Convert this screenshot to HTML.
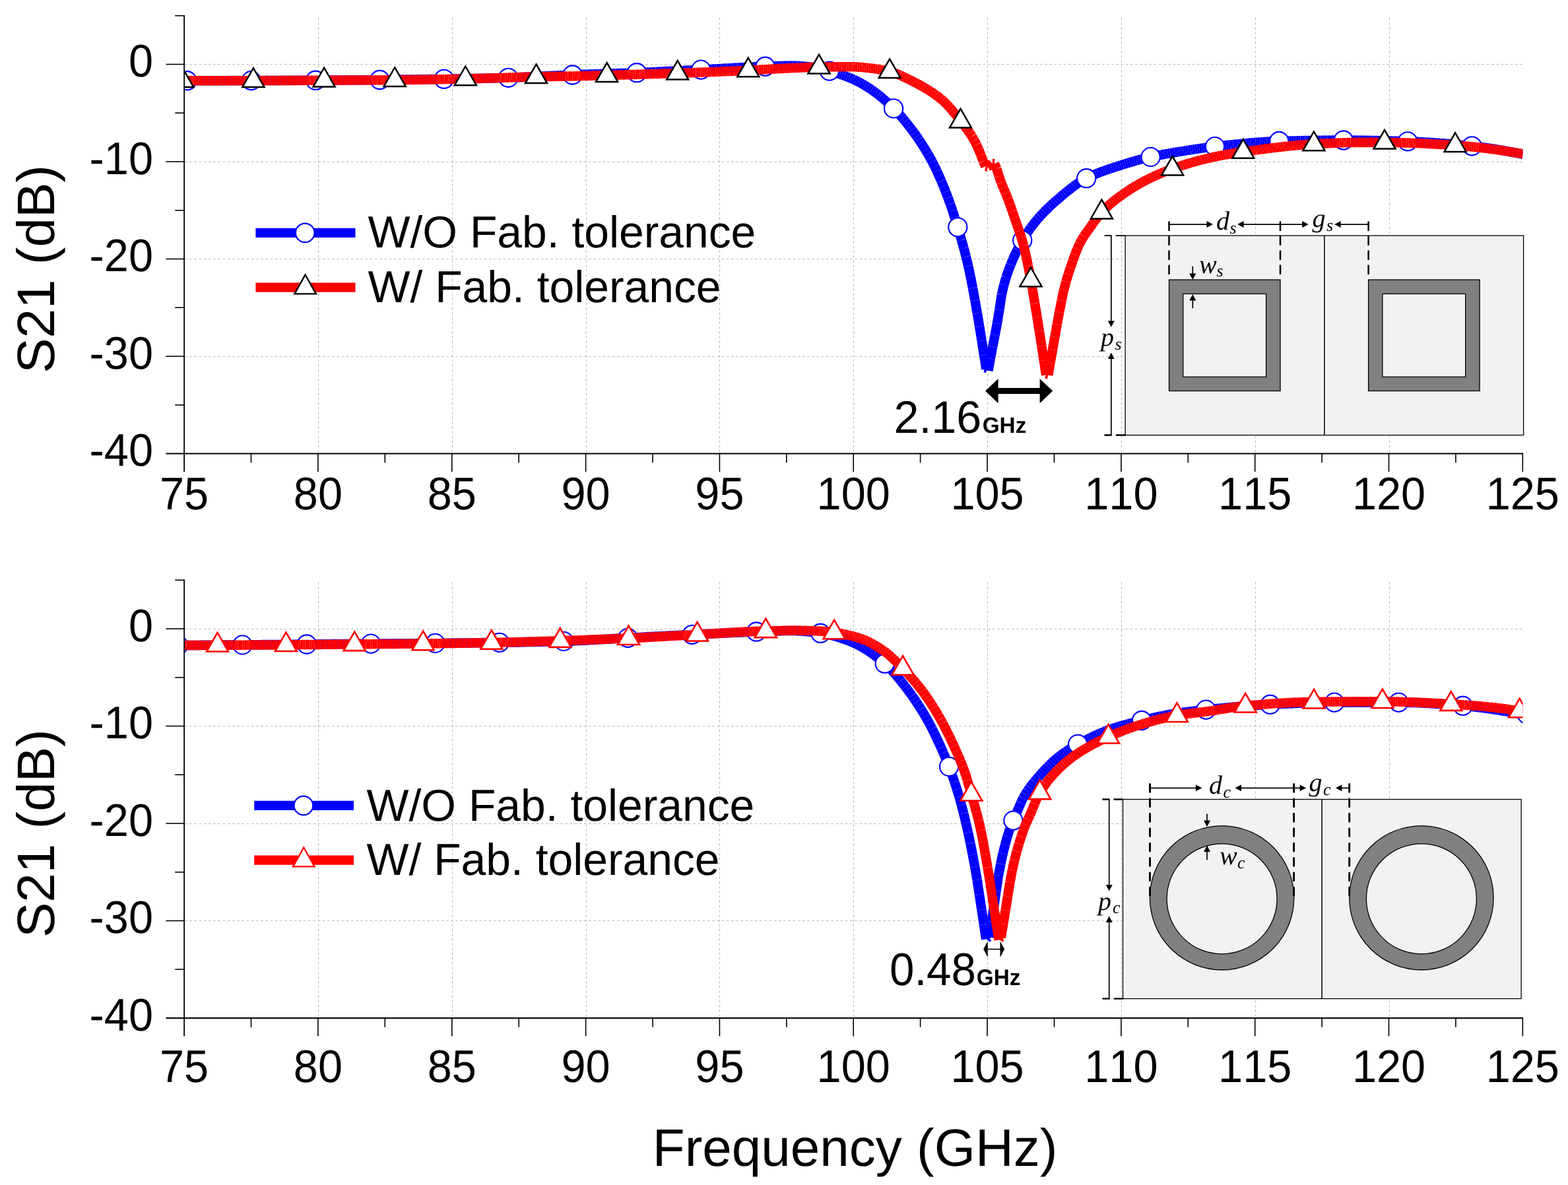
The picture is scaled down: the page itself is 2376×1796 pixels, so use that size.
<!DOCTYPE html>
<html lang="en"><head><meta charset="utf-8"><title>S21 vs Frequency</title>
<style>html,body{margin:0;padding:0;background:#fff}body{width:2376px;height:1796px;overflow:hidden}svg{display:block}text{font-family:"Liberation Sans",Arial,Helvetica,sans-serif;fill:#000;font-kerning:none;text-rendering:geometricPrecision}.t{font-size:66.7px}.l{font-size:67.8px}.a{font-size:80px}.g{font-size:33.3px;font-weight:bold}.m{font-family:"Liberation Serif","Times New Roman",Times,serif;font-style:italic;font-size:40px}.s{font-family:"Liberation Serif","Times New Roman",Times,serif;font-style:italic;font-size:26px}</style></head><body>
<svg width="2376" height="1796" viewBox="0 0 2376 1796">
<rect width="2376" height="1796" fill="#fff"/>
<defs><clipPath id="ct"><rect x="279.0" y="0" width="2028.5" height="690"/></clipPath><clipPath id="cb"><rect x="279.0" y="850" width="2028.5" height="700"/></clipPath></defs>
<g stroke="#b8b8b8" stroke-width="1" stroke-dasharray="3.6 3.6" fill="none">
<path d="M280.0 97.5H2307.2"/>
<path d="M280.0 245.5H2307.2"/>
<path d="M280.0 392.5H2307.2"/>
<path d="M280.0 540.5H2307.2"/>
<path d="M482.5 26.8V687.5"/>
<path d="M685.5 26.8V687.5"/>
<path d="M888.5 26.8V687.5"/>
<path d="M1090.5 26.8V687.5"/>
<path d="M1293.5 26.8V687.5"/>
<path d="M1496.5 26.8V687.5"/>
<path d="M1699.5 26.8V687.5"/>
<path d="M1902.5 26.8V687.5"/>
<path d="M2105.5 26.8V687.5"/>
</g>
<g clip-path="url(#ct)">
<g fill="none" stroke="#0000ff" stroke-width="14.5">
<path d="M279.0 122.2L282.4 122.2"/>
<path d="M282.4 122.2L285.8 122.2"/>
<path d="M285.8 122.2L289.2 122.2"/>
<path d="M289.2 122.2L292.6 122.2"/>
<path d="M292.6 122.2L296.0 122.2"/>
<path d="M296.0 122.2L299.4 122.2"/>
<path d="M299.4 122.2L302.8 122.2"/>
<path d="M302.8 122.2L306.2 122.2"/>
<path d="M306.2 122.2L309.6 122.2"/>
<path d="M309.6 122.2L313.0 122.2"/>
<path d="M313.0 122.2L316.4 122.2"/>
<path d="M316.4 122.2L319.9 122.2"/>
<path d="M319.9 122.2L323.3 122.2"/>
<path d="M323.3 122.2L326.7 122.2"/>
<path d="M326.7 122.2L330.1 122.2"/>
<path d="M330.1 122.2L333.5 122.2"/>
<path d="M333.5 122.2L336.9 122.2"/>
<path d="M336.9 122.2L340.3 122.2"/>
<path d="M340.3 122.2L343.7 122.2"/>
<path d="M343.7 122.2L347.1 122.1"/>
<path d="M347.1 122.1L350.5 122.1"/>
<path d="M350.5 122.1L353.9 122.1"/>
<path d="M353.9 122.1L357.3 122.1"/>
<path d="M357.3 122.1L360.7 122.1"/>
<path d="M360.7 122.1L364.1 122.1"/>
<path d="M364.1 122.1L367.5 122.1"/>
<path d="M367.5 122.1L370.9 122.1"/>
<path d="M370.9 122.1L374.3 122.1"/>
<path d="M374.3 122.1L377.7 122.1"/>
<path d="M377.7 122.1L381.1 122.1"/>
<path d="M381.1 122.1L384.5 122.1"/>
<path d="M384.5 122.1L387.9 122.1"/>
<path d="M387.9 122.1L391.3 122.1"/>
<path d="M391.3 122.1L394.8 122.1"/>
<path d="M394.8 122.1L398.2 122.1"/>
<path d="M398.2 122.1L401.6 122.0"/>
<path d="M401.6 122.0L405.0 122.0"/>
<path d="M405.0 122.0L408.4 122.0"/>
<path d="M408.4 122.0L411.8 122.0"/>
<path d="M411.8 122.0L415.2 122.0"/>
<path d="M415.2 122.0L418.6 122.0"/>
<path d="M418.6 122.0L422.0 122.0"/>
<path d="M422.0 122.0L425.4 122.0"/>
<path d="M425.4 122.0L428.8 121.9"/>
<path d="M428.8 121.9L432.2 121.9"/>
<path d="M432.2 121.9L435.6 121.9"/>
<path d="M435.6 121.9L439.0 121.9"/>
<path d="M439.0 121.9L442.4 121.9"/>
<path d="M442.4 121.9L445.8 121.9"/>
<path d="M445.8 121.9L449.2 121.8"/>
<path d="M449.2 121.8L452.6 121.8"/>
<path d="M452.6 121.8L456.0 121.8"/>
<path d="M456.0 121.8L459.4 121.8"/>
<path d="M459.4 121.8L462.8 121.8"/>
<path d="M462.8 121.8L466.2 121.8"/>
<path d="M466.2 121.8L469.7 121.7"/>
<path d="M469.7 121.7L473.1 121.7"/>
<path d="M473.1 121.7L476.5 121.7"/>
<path d="M476.5 121.7L479.9 121.7"/>
<path d="M479.9 121.7L483.3 121.7"/>
<path d="M483.3 121.7L486.7 121.6"/>
<path d="M486.7 121.6L490.1 121.6"/>
<path d="M490.1 121.6L493.5 121.6"/>
<path d="M493.5 121.6L496.9 121.6"/>
<path d="M496.9 121.6L500.3 121.6"/>
<path d="M500.3 121.6L503.7 121.5"/>
<path d="M503.7 121.5L507.1 121.5"/>
<path d="M507.1 121.5L510.5 121.5"/>
<path d="M510.5 121.5L513.9 121.5"/>
<path d="M513.9 121.5L517.3 121.5"/>
<path d="M517.3 121.5L520.7 121.4"/>
<path d="M520.7 121.4L524.1 121.4"/>
<path d="M524.1 121.4L527.5 121.4"/>
<path d="M527.5 121.4L530.9 121.4"/>
<path d="M530.9 121.4L534.3 121.3"/>
<path d="M534.3 121.3L537.7 121.3"/>
<path d="M537.7 121.3L541.1 121.3"/>
<path d="M541.1 121.3L544.5 121.3"/>
<path d="M544.5 121.3L548.0 121.2"/>
<path d="M548.0 121.2L551.4 121.2"/>
<path d="M551.4 121.2L554.8 121.2"/>
<path d="M554.8 121.2L558.2 121.1"/>
<path d="M558.2 121.1L561.6 121.1"/>
<path d="M561.6 121.1L565.0 121.1"/>
<path d="M565.0 121.1L568.4 121.1"/>
<path d="M568.4 121.1L571.8 121.0"/>
<path d="M571.8 121.0L575.2 121.0"/>
<path d="M575.2 121.0L578.6 121.0"/>
<path d="M578.6 121.0L582.0 120.9"/>
<path d="M582.0 120.9L585.4 120.9"/>
<path d="M585.4 120.9L588.8 120.9"/>
<path d="M588.8 120.9L592.2 120.8"/>
<path d="M592.2 120.8L595.6 120.8"/>
<path d="M595.6 120.8L599.0 120.8"/>
<path d="M599.0 120.8L602.4 120.7"/>
<path d="M602.4 120.7L605.8 120.7"/>
<path d="M605.8 120.7L609.2 120.6"/>
<path d="M609.2 120.6L612.6 120.6"/>
<path d="M612.6 120.6L616.0 120.6"/>
<path d="M616.0 120.6L619.4 120.5"/>
<path d="M619.4 120.5L622.9 120.5"/>
<path d="M622.9 120.5L626.3 120.4"/>
<path d="M626.3 120.4L629.7 120.4"/>
<path d="M629.7 120.4L633.1 120.4"/>
<path d="M633.1 120.4L636.5 120.3"/>
<path d="M636.5 120.3L639.9 120.3"/>
<path d="M639.9 120.3L643.3 120.2"/>
<path d="M643.3 120.2L646.7 120.2"/>
<path d="M646.7 120.2L650.1 120.1"/>
<path d="M650.1 120.1L653.5 120.1"/>
<path d="M653.5 120.1L656.9 120.0"/>
<path d="M656.9 120.0L660.3 120.0"/>
<path d="M660.3 120.0L663.7 119.9"/>
<path d="M663.7 119.9L667.1 119.9"/>
<path d="M667.1 119.9L670.5 119.8"/>
<path d="M670.5 119.8L673.9 119.8"/>
<path d="M673.9 119.8L677.3 119.7"/>
<path d="M677.3 119.7L680.7 119.7"/>
<path d="M680.7 119.7L684.1 119.6"/>
<path d="M684.1 119.6L687.5 119.6"/>
<path d="M687.5 119.6L690.9 119.5"/>
<path d="M690.9 119.5L694.3 119.4"/>
<path d="M694.3 119.4L697.8 119.4"/>
<path d="M697.8 119.4L701.2 119.3"/>
<path d="M701.2 119.3L704.6 119.3"/>
<path d="M704.6 119.3L708.0 119.2"/>
<path d="M708.0 119.2L711.4 119.1"/>
<path d="M711.4 119.1L714.8 119.1"/>
<path d="M714.8 119.1L718.2 119.0"/>
<path d="M718.2 119.0L721.6 118.9"/>
<path d="M721.6 118.9L725.0 118.9"/>
<path d="M725.0 118.9L728.4 118.8"/>
<path d="M728.4 118.8L731.8 118.7"/>
<path d="M731.8 118.7L735.2 118.7"/>
<path d="M735.2 118.7L738.6 118.6"/>
<path d="M738.6 118.6L742.0 118.5"/>
<path d="M742.0 118.5L745.4 118.4"/>
<path d="M745.4 118.4L748.8 118.3"/>
<path d="M748.8 118.3L752.2 118.3"/>
<path d="M752.2 118.3L755.6 118.2"/>
<path d="M755.6 118.2L759.0 118.1"/>
<path d="M759.0 118.1L762.4 118.0"/>
<path d="M762.4 118.0L765.8 117.9"/>
<path d="M765.8 117.9L769.2 117.8"/>
<path d="M769.2 117.8L772.6 117.7"/>
<path d="M772.6 117.7L776.1 117.6"/>
<path d="M776.1 117.6L779.5 117.5"/>
<path d="M779.5 117.5L782.9 117.4"/>
<path d="M782.9 117.4L786.3 117.2"/>
<path d="M786.3 117.2L789.7 117.1"/>
<path d="M789.7 117.1L793.1 117.0"/>
<path d="M793.1 117.0L796.5 116.8"/>
<path d="M796.5 116.8L799.9 116.7"/>
<path d="M799.9 116.7L803.3 116.5"/>
<path d="M803.3 116.5L806.7 116.4"/>
<path d="M806.7 116.4L810.1 116.2"/>
<path d="M810.1 116.2L813.5 116.0"/>
<path d="M813.5 116.0L816.9 115.9"/>
<path d="M816.9 115.9L820.3 115.7"/>
<path d="M820.3 115.7L823.7 115.5"/>
<path d="M823.7 115.5L827.1 115.3"/>
<path d="M827.1 115.3L830.5 115.2"/>
<path d="M830.5 115.2L833.9 115.0"/>
<path d="M833.9 115.0L837.3 114.8"/>
<path d="M837.3 114.8L840.7 114.7"/>
<path d="M840.7 114.7L844.1 114.5"/>
<path d="M844.1 114.5L847.5 114.3"/>
<path d="M847.5 114.3L851.0 114.2"/>
<path d="M851.0 114.2L854.4 114.0"/>
<path d="M854.4 114.0L857.8 113.9"/>
<path d="M857.8 113.9L861.2 113.7"/>
<path d="M861.2 113.7L864.6 113.6"/>
<path d="M864.6 113.6L868.0 113.5"/>
<path d="M868.0 113.5L871.4 113.3"/>
<path d="M871.4 113.3L874.8 113.2"/>
<path d="M874.8 113.2L878.2 113.1"/>
<path d="M878.2 113.1L881.6 113.0"/>
<path d="M881.6 113.0L885.0 112.8"/>
<path d="M885.0 112.8L888.4 112.7"/>
<path d="M888.4 112.7L891.8 112.6"/>
<path d="M891.8 112.6L895.2 112.5"/>
<path d="M895.2 112.5L898.6 112.4"/>
<path d="M898.6 112.4L902.0 112.3"/>
<path d="M902.0 112.3L905.4 112.2"/>
<path d="M905.4 112.2L908.8 112.1"/>
<path d="M908.8 112.1L912.2 112.0"/>
<path d="M912.2 112.0L915.6 111.9"/>
<path d="M915.6 111.9L919.0 111.7"/>
<path d="M919.0 111.7L922.4 111.6"/>
<path d="M922.4 111.6L925.9 111.5"/>
<path d="M925.9 111.5L929.3 111.4"/>
<path d="M929.3 111.4L932.7 111.3"/>
<path d="M932.7 111.3L936.1 111.2"/>
<path d="M936.1 111.2L939.5 111.1"/>
<path d="M939.5 111.1L942.9 111.0"/>
<path d="M942.9 111.0L946.3 110.9"/>
<path d="M946.3 110.9L949.7 110.7"/>
<path d="M949.7 110.7L953.1 110.6"/>
<path d="M953.1 110.6L956.5 110.5"/>
<path d="M956.5 110.5L959.9 110.4"/>
<path d="M959.9 110.4L963.3 110.2"/>
<path d="M963.3 110.2L966.7 110.1"/>
<path d="M966.7 110.1L970.1 110.0"/>
<path d="M970.1 110.0L973.5 109.8"/>
<path d="M973.5 109.8L976.9 109.7"/>
<path d="M976.9 109.7L980.3 109.5"/>
<path d="M980.3 109.5L983.7 109.4"/>
<path d="M983.7 109.4L987.1 109.2"/>
<path d="M987.1 109.2L990.5 109.1"/>
<path d="M990.5 109.1L993.9 108.9"/>
<path d="M993.9 108.9L997.3 108.8"/>
<path d="M997.3 108.8L1000.8 108.6"/>
<path d="M1000.8 108.6L1004.2 108.4"/>
<path d="M1004.2 108.4L1007.6 108.3"/>
<path d="M1007.6 108.3L1011.0 108.1"/>
<path d="M1011.0 108.1L1014.4 107.9"/>
<path d="M1014.4 107.9L1017.8 107.8"/>
<path d="M1017.8 107.8L1021.2 107.6"/>
<path d="M1021.2 107.6L1024.6 107.4"/>
<path d="M1024.6 107.4L1028.0 107.3"/>
<path d="M1028.0 107.3L1031.4 107.1"/>
<path d="M1031.4 107.1L1034.8 106.9"/>
<path d="M1034.8 106.9L1038.2 106.8"/>
<path d="M1038.2 106.8L1041.6 106.6"/>
<path d="M1041.6 106.6L1045.0 106.4"/>
<path d="M1045.0 106.4L1048.4 106.3"/>
<path d="M1048.4 106.3L1051.8 106.1"/>
<path d="M1051.8 106.1L1055.2 105.9"/>
<path d="M1055.2 105.9L1058.6 105.8"/>
<path d="M1058.6 105.8L1062.0 105.6"/>
<path d="M1062.0 105.6L1065.4 105.4"/>
<path d="M1065.4 105.4L1068.8 105.3"/>
<path d="M1068.8 105.3L1072.2 105.1"/>
<path d="M1072.2 105.1L1075.6 104.9"/>
<path d="M1075.6 104.9L1079.1 104.7"/>
<path d="M1079.1 104.7L1082.5 104.5"/>
<path d="M1082.5 104.5L1085.9 104.3"/>
<path d="M1085.9 104.3L1089.3 104.2"/>
<path d="M1089.3 104.2L1092.7 104.0"/>
<path d="M1092.7 104.0L1096.1 103.8"/>
<path d="M1096.1 103.8L1099.5 103.6"/>
<path d="M1099.5 103.6L1102.9 103.4"/>
<path d="M1102.9 103.4L1106.3 103.2"/>
<path d="M1106.3 103.2L1109.7 103.0"/>
<path d="M1109.7 103.0L1113.1 102.8"/>
<path d="M1113.1 102.8L1116.5 102.6"/>
<path d="M1116.5 102.6L1119.9 102.5"/>
<path d="M1119.9 102.5L1123.3 102.3"/>
<path d="M1123.3 102.3L1126.7 102.1"/>
<path d="M1126.7 102.1L1130.1 101.9"/>
<path d="M1130.1 101.9L1133.5 101.8"/>
<path d="M1133.5 101.8L1136.9 101.6"/>
<path d="M1136.9 101.6L1140.3 101.4"/>
<path d="M1140.3 101.4L1143.7 101.3"/>
<path d="M1143.7 101.3L1147.1 101.1"/>
<path d="M1147.1 101.1L1150.5 101.0"/>
<path d="M1150.5 101.0L1154.0 100.9"/>
<path d="M1154.0 100.9L1157.4 100.8"/>
<path d="M1157.4 100.8L1160.8 100.6"/>
<path d="M1160.8 100.6L1164.2 100.5"/>
<path d="M1164.2 100.5L1167.6 100.4"/>
<path d="M1167.6 100.4L1171.0 100.3"/>
<path d="M1171.0 100.3L1174.4 100.1"/>
<path d="M1174.4 100.1L1177.8 100.0"/>
<path d="M1177.8 100.0L1181.2 99.9"/>
<path d="M1181.2 99.9L1184.6 99.8"/>
<path d="M1184.6 99.8L1188.0 99.7"/>
<path d="M1188.0 99.7L1191.4 99.7"/>
<path d="M1191.4 99.7L1194.8 99.6"/>
<path d="M1194.8 99.6L1198.2 99.6"/>
<path d="M1198.2 99.6L1201.6 99.6"/>
<path d="M1201.6 99.6L1205.0 99.7"/>
<path d="M1205.0 99.7L1208.4 99.8"/>
<path d="M1208.4 99.8L1211.8 100.0"/>
<path d="M1211.8 100.0L1215.2 100.3"/>
<path d="M1215.2 100.3L1218.6 100.6"/>
<path d="M1218.6 100.6L1222.0 100.9"/>
<path d="M1222.0 100.9L1225.4 101.3"/>
<path d="M1225.4 101.3L1228.9 101.7"/>
<path d="M1228.9 101.7L1232.3 102.1"/>
<path d="M1232.3 102.1L1235.7 102.6"/>
<path d="M1235.7 102.6L1239.1 103.2"/>
<path d="M1239.1 103.2L1242.5 104.0"/>
<path d="M1242.5 104.0L1245.9 104.8"/>
<path d="M1245.9 104.8L1249.3 105.6"/>
<path d="M1249.3 105.6L1252.7 106.5"/>
<path d="M1252.7 106.5L1256.1 107.4"/>
<path d="M1256.1 107.4L1259.5 108.3"/>
<path d="M1259.5 108.3L1262.9 109.3"/>
<path d="M1262.9 109.3L1266.3 110.3"/>
<path d="M1266.3 110.3L1269.7 111.4"/>
<path d="M1269.7 111.4L1273.1 112.5"/>
<path d="M1273.1 112.5L1276.5 113.7"/>
<path d="M1276.5 113.7L1279.9 114.9"/>
<path d="M1279.9 114.9L1283.3 116.2"/>
<path d="M1283.3 116.2L1286.7 117.5"/>
<path d="M1286.7 117.5L1290.1 119.0"/>
<path d="M1290.1 119.0L1293.5 120.4"/>
<path d="M1293.5 120.4L1296.9 122.1"/>
<path d="M1296.9 122.1L1300.3 123.8"/>
<path d="M1300.3 123.8L1303.7 125.6"/>
<path d="M1303.7 125.6L1307.2 127.5"/>
<path d="M1307.2 127.5L1310.6 129.5"/>
<path d="M1310.6 129.5L1314.0 131.6"/>
<path d="M1314.0 131.6L1317.4 133.8"/>
<path d="M1317.4 133.8L1320.8 136.1"/>
<path d="M1320.8 136.1L1324.2 138.5"/>
<path d="M1324.2 138.5L1327.6 141.0"/>
<path d="M1327.6 141.0L1331.0 143.6"/>
<path d="M1331.0 143.6L1334.4 146.3"/>
<path d="M1334.4 146.3L1337.8 149.1"/>
<path d="M1337.8 149.1L1341.2 152.1"/>
<path d="M1341.2 152.1L1344.6 155.1"/>
<path d="M1344.6 155.1L1348.0 158.3"/>
<path d="M1348.0 158.3L1351.4 161.5"/>
<path d="M1351.4 161.5L1354.8 164.8"/>
<path d="M1354.8 164.8L1358.2 168.3"/>
<path d="M1358.2 168.3L1361.6 171.9"/>
<path d="M1361.6 171.9L1365.0 175.8"/>
<path d="M1365.0 175.8L1368.4 179.8"/>
<path d="M1368.4 179.8L1371.8 183.9"/>
<path d="M1371.8 183.9L1375.2 188.2"/>
<path d="M1375.2 188.2L1378.6 192.6"/>
<path d="M1378.6 192.6L1382.1 197.1"/>
<path d="M1382.1 197.1L1385.5 201.7"/>
<path d="M1385.5 201.7L1388.9 206.5"/>
<path d="M1388.9 206.5L1392.3 211.4"/>
<path d="M1392.3 211.4L1395.7 216.5"/>
<path d="M1395.7 216.5L1399.1 221.8"/>
<path d="M1399.1 221.8L1402.5 227.3"/>
<path d="M1402.5 227.3L1405.9 233.0"/>
<path d="M1405.9 233.0L1409.3 239.0"/>
<path d="M1409.3 239.0L1412.7 245.3"/>
<path d="M1412.7 245.3L1416.1 251.9"/>
<path d="M1416.1 251.9L1419.5 258.9"/>
<path d="M1419.5 258.9L1422.9 266.4"/>
<path d="M1422.9 266.4L1426.3 274.2"/>
<path d="M1426.3 274.2L1429.7 282.3"/>
<path d="M1429.7 282.3L1433.1 290.8"/>
<path d="M1433.1 290.8L1436.5 299.7"/>
<path d="M1436.5 299.7L1439.9 309.2"/>
<path d="M1439.9 309.2L1443.3 319.3"/>
<path d="M1443.3 319.3L1446.7 329.8"/>
<path d="M1446.7 329.8L1450.1 340.8"/>
<path d="M1450.1 340.8L1453.5 352.1"/>
<path d="M1453.5 352.1L1457.0 363.7"/>
<path d="M1457.0 363.7L1460.4 376.0"/>
<path d="M1460.4 376.0L1463.8 389.1"/>
<path d="M1463.8 389.1L1467.2 403.3"/>
<path d="M1467.2 403.3L1470.6 419.2"/>
<path d="M1470.6 419.2L1474.0 436.7"/>
<path d="M1474.0 436.7L1477.4 455.3"/>
<path d="M1477.4 455.3L1480.8 474.7"/>
<path d="M1480.8 474.7L1484.2 494.9"/>
<path d="M1484.2 494.9L1487.6 516.6"/>
<path d="M1487.6 516.6L1491.0 538.1"/>
<path d="M1491.0 538.1L1494.4 559.4"/>
<path d="M1497.4 561.8L1500.8 543.4"/>
<path d="M1500.8 543.4L1504.2 525.3"/>
<path d="M1504.2 525.3L1507.6 507.9"/>
<path d="M1507.6 507.9L1511.0 490.0"/>
<path d="M1511.0 490.0L1514.4 469.4"/>
<path d="M1514.4 469.4L1517.8 446.6"/>
<path d="M1517.8 446.6L1521.2 432.0"/>
<path d="M1521.2 432.0L1524.6 420.2"/>
<path d="M1524.6 420.2L1528.0 410.2"/>
<path d="M1528.0 410.2L1531.5 401.3"/>
<path d="M1531.5 401.3L1534.9 393.0"/>
<path d="M1534.9 393.0L1538.3 385.3"/>
<path d="M1538.3 385.3L1541.7 378.3"/>
<path d="M1541.7 378.3L1545.1 371.9"/>
<path d="M1545.1 371.9L1548.5 365.8"/>
<path d="M1548.5 365.8L1551.9 360.1"/>
<path d="M1551.9 360.1L1555.3 354.8"/>
<path d="M1555.3 354.8L1558.7 349.7"/>
<path d="M1558.7 349.7L1562.1 344.9"/>
<path d="M1562.1 344.9L1565.5 340.4"/>
<path d="M1565.5 340.4L1568.9 336.1"/>
<path d="M1568.9 336.1L1572.3 332.1"/>
<path d="M1572.3 332.1L1575.7 328.2"/>
<path d="M1575.7 328.2L1579.1 324.5"/>
<path d="M1579.1 324.5L1582.5 320.9"/>
<path d="M1582.5 320.9L1585.9 317.5"/>
<path d="M1585.9 317.5L1589.3 314.2"/>
<path d="M1589.3 314.2L1592.7 311.0"/>
<path d="M1592.7 311.0L1596.1 307.9"/>
<path d="M1596.1 307.9L1599.6 304.8"/>
<path d="M1599.6 304.8L1603.0 301.9"/>
<path d="M1603.0 301.9L1606.4 299.0"/>
<path d="M1606.4 299.0L1609.8 296.1"/>
<path d="M1609.8 296.1L1613.2 293.2"/>
<path d="M1613.2 293.2L1616.6 290.4"/>
<path d="M1616.6 290.4L1620.0 287.7"/>
<path d="M1620.0 287.7L1623.4 285.0"/>
<path d="M1623.4 285.0L1626.8 282.4"/>
<path d="M1626.8 282.4L1630.2 279.9"/>
<path d="M1630.2 279.9L1633.6 277.6"/>
<path d="M1633.6 277.6L1637.0 275.3"/>
<path d="M1637.0 275.3L1640.4 273.3"/>
<path d="M1640.4 273.3L1643.8 271.3"/>
<path d="M1643.8 271.3L1647.2 269.6"/>
<path d="M1647.2 269.6L1650.6 267.9"/>
<path d="M1650.6 267.9L1654.0 266.4"/>
<path d="M1654.0 266.4L1657.4 264.9"/>
<path d="M1657.4 264.9L1660.8 263.5"/>
<path d="M1660.8 263.5L1664.2 262.1"/>
<path d="M1664.2 262.1L1667.7 260.8"/>
<path d="M1667.7 260.8L1671.1 259.5"/>
<path d="M1671.1 259.5L1674.5 258.3"/>
<path d="M1674.5 258.3L1677.9 257.1"/>
<path d="M1677.9 257.1L1681.3 256.0"/>
<path d="M1681.3 256.0L1684.7 254.8"/>
<path d="M1684.7 254.8L1688.1 253.7"/>
<path d="M1688.1 253.7L1691.5 252.6"/>
<path d="M1691.5 252.6L1694.9 251.5"/>
<path d="M1694.9 251.5L1698.3 250.4"/>
<path d="M1698.3 250.4L1701.7 249.4"/>
<path d="M1701.7 249.4L1705.1 248.3"/>
<path d="M1705.1 248.3L1708.5 247.2"/>
<path d="M1708.5 247.2L1711.9 246.2"/>
<path d="M1711.9 246.2L1715.3 245.2"/>
<path d="M1715.3 245.2L1718.7 244.2"/>
<path d="M1718.7 244.2L1722.1 243.3"/>
<path d="M1722.1 243.3L1725.5 242.3"/>
<path d="M1725.5 242.3L1728.9 241.4"/>
<path d="M1728.9 241.4L1732.3 240.5"/>
<path d="M1732.3 240.5L1735.8 239.7"/>
<path d="M1735.8 239.7L1739.2 238.9"/>
<path d="M1739.2 238.9L1742.6 238.1"/>
<path d="M1742.6 238.1L1746.0 237.4"/>
<path d="M1746.0 237.4L1749.4 236.6"/>
<path d="M1749.4 236.6L1752.8 235.9"/>
<path d="M1752.8 235.9L1756.2 235.3"/>
<path d="M1756.2 235.3L1759.6 234.6"/>
<path d="M1759.6 234.6L1763.0 234.0"/>
<path d="M1763.0 234.0L1766.4 233.4"/>
<path d="M1766.4 233.4L1769.8 232.8"/>
<path d="M1769.8 232.8L1773.2 232.2"/>
<path d="M1773.2 232.2L1776.6 231.6"/>
<path d="M1776.6 231.6L1780.0 231.0"/>
<path d="M1780.0 231.0L1783.4 230.5"/>
<path d="M1783.4 230.5L1786.8 229.9"/>
<path d="M1786.8 229.9L1790.2 229.3"/>
<path d="M1790.2 229.3L1793.6 228.8"/>
<path d="M1793.6 228.8L1797.0 228.3"/>
<path d="M1797.0 228.3L1800.4 227.7"/>
<path d="M1800.4 227.7L1803.9 227.2"/>
<path d="M1803.9 227.2L1807.3 226.6"/>
<path d="M1807.3 226.6L1810.7 226.1"/>
<path d="M1810.7 226.1L1814.1 225.6"/>
<path d="M1814.1 225.6L1817.5 225.1"/>
<path d="M1817.5 225.1L1820.9 224.6"/>
<path d="M1820.9 224.6L1824.3 224.1"/>
<path d="M1824.3 224.1L1827.7 223.7"/>
<path d="M1827.7 223.7L1831.1 223.2"/>
<path d="M1831.1 223.2L1834.5 222.8"/>
<path d="M1834.5 222.8L1837.9 222.4"/>
<path d="M1837.9 222.4L1841.3 222.1"/>
<path d="M1841.3 222.1L1844.7 221.7"/>
<path d="M1844.7 221.7L1848.1 221.3"/>
<path d="M1848.1 221.3L1851.5 220.9"/>
<path d="M1851.5 220.9L1854.9 220.6"/>
<path d="M1854.9 220.6L1858.3 220.2"/>
<path d="M1858.3 220.2L1861.7 219.8"/>
<path d="M1861.7 219.8L1865.1 219.5"/>
<path d="M1865.1 219.5L1868.5 219.1"/>
<path d="M1868.5 219.1L1872.0 218.8"/>
<path d="M1872.0 218.8L1875.4 218.4"/>
<path d="M1875.4 218.4L1878.8 218.1"/>
<path d="M1878.8 218.1L1882.2 217.7"/>
<path d="M1882.2 217.7L1885.6 217.4"/>
<path d="M1885.6 217.4L1889.0 217.1"/>
<path d="M1889.0 217.1L1892.4 216.8"/>
<path d="M1892.4 216.8L1895.8 216.5"/>
<path d="M1895.8 216.5L1899.2 216.2"/>
<path d="M1899.2 216.2L1902.6 215.9"/>
<path d="M1902.6 215.9L1906.0 215.7"/>
<path d="M1906.0 215.7L1909.4 215.4"/>
<path d="M1909.4 215.4L1912.8 215.2"/>
<path d="M1912.8 215.2L1916.2 215.0"/>
<path d="M1916.2 215.0L1919.6 214.8"/>
<path d="M1919.6 214.8L1923.0 214.6"/>
<path d="M1923.0 214.6L1926.4 214.4"/>
<path d="M1926.4 214.4L1929.8 214.3"/>
<path d="M1929.8 214.3L1933.2 214.1"/>
<path d="M1933.2 214.1L1936.7 214.0"/>
<path d="M1936.7 214.0L1940.1 213.9"/>
<path d="M1940.1 213.9L1943.5 213.9"/>
<path d="M1943.5 213.9L1946.9 213.8"/>
<path d="M1946.9 213.8L1950.3 213.7"/>
<path d="M1950.3 213.7L1953.7 213.6"/>
<path d="M1953.7 213.6L1957.1 213.5"/>
<path d="M1957.1 213.5L1960.5 213.5"/>
<path d="M1960.5 213.5L1963.9 213.4"/>
<path d="M1963.9 213.4L1967.3 213.3"/>
<path d="M1967.3 213.3L1970.7 213.2"/>
<path d="M1970.7 213.2L1974.1 213.2"/>
<path d="M1974.1 213.2L1977.5 213.1"/>
<path d="M1977.5 213.1L1980.9 213.0"/>
<path d="M1980.9 213.0L1984.3 213.0"/>
<path d="M1984.3 213.0L1987.7 212.9"/>
<path d="M1987.7 212.9L1991.1 212.9"/>
<path d="M1991.1 212.9L1994.5 212.8"/>
<path d="M1994.5 212.8L1997.9 212.8"/>
<path d="M1997.9 212.8L2001.3 212.7"/>
<path d="M2001.3 212.7L2004.8 212.7"/>
<path d="M2004.8 212.7L2008.2 212.6"/>
<path d="M2008.2 212.6L2011.6 212.6"/>
<path d="M2011.6 212.6L2015.0 212.6"/>
<path d="M2015.0 212.6L2018.4 212.6"/>
<path d="M2018.4 212.6L2021.8 212.5"/>
<path d="M2021.8 212.5L2025.2 212.5"/>
<path d="M2025.2 212.5L2028.6 212.5"/>
<path d="M2028.6 212.5L2032.0 212.5"/>
<path d="M2032.0 212.5L2035.4 212.5"/>
<path d="M2035.4 212.5L2038.8 212.5"/>
<path d="M2038.8 212.5L2042.2 212.5"/>
<path d="M2042.2 212.5L2045.6 212.5"/>
<path d="M2045.6 212.5L2049.0 212.5"/>
<path d="M2049.0 212.5L2052.4 212.6"/>
<path d="M2052.4 212.6L2055.8 212.6"/>
<path d="M2055.8 212.6L2059.2 212.6"/>
<path d="M2059.2 212.6L2062.6 212.7"/>
<path d="M2062.6 212.7L2066.0 212.7"/>
<path d="M2066.0 212.7L2069.4 212.8"/>
<path d="M2069.4 212.8L2072.9 212.8"/>
<path d="M2072.9 212.8L2076.3 212.9"/>
<path d="M2076.3 212.9L2079.7 212.9"/>
<path d="M2079.7 212.9L2083.1 213.0"/>
<path d="M2083.1 213.0L2086.5 213.1"/>
<path d="M2086.5 213.1L2089.9 213.2"/>
<path d="M2089.9 213.2L2093.3 213.2"/>
<path d="M2093.3 213.2L2096.7 213.3"/>
<path d="M2096.7 213.3L2100.1 213.4"/>
<path d="M2100.1 213.4L2103.5 213.5"/>
<path d="M2103.5 213.5L2106.9 213.6"/>
<path d="M2106.9 213.6L2110.3 213.7"/>
<path d="M2110.3 213.7L2113.7 213.7"/>
<path d="M2113.7 213.7L2117.1 213.8"/>
<path d="M2117.1 213.8L2120.5 213.9"/>
<path d="M2120.5 213.9L2123.9 214.0"/>
<path d="M2123.9 214.0L2127.3 214.1"/>
<path d="M2127.3 214.1L2130.7 214.2"/>
<path d="M2130.7 214.2L2134.1 214.3"/>
<path d="M2134.1 214.3L2137.5 214.4"/>
<path d="M2137.5 214.4L2141.0 214.6"/>
<path d="M2141.0 214.6L2144.4 214.7"/>
<path d="M2144.4 214.7L2147.8 214.8"/>
<path d="M2147.8 214.8L2151.2 215.0"/>
<path d="M2151.2 215.0L2154.6 215.2"/>
<path d="M2154.6 215.2L2158.0 215.4"/>
<path d="M2158.0 215.4L2161.4 215.5"/>
<path d="M2161.4 215.5L2164.8 215.8"/>
<path d="M2164.8 215.8L2168.2 216.0"/>
<path d="M2168.2 216.0L2171.6 216.2"/>
<path d="M2171.6 216.2L2175.0 216.4"/>
<path d="M2175.0 216.4L2178.4 216.7"/>
<path d="M2178.4 216.7L2181.8 216.9"/>
<path d="M2181.8 216.9L2185.2 217.2"/>
<path d="M2185.2 217.2L2188.6 217.5"/>
<path d="M2188.6 217.5L2192.0 217.7"/>
<path d="M2192.0 217.7L2195.4 218.0"/>
<path d="M2195.4 218.0L2198.8 218.3"/>
<path d="M2198.8 218.3L2202.2 218.6"/>
<path d="M2202.2 218.6L2205.6 218.9"/>
<path d="M2205.6 218.9L2209.1 219.2"/>
<path d="M2209.1 219.2L2212.5 219.5"/>
<path d="M2212.5 219.5L2215.9 219.9"/>
<path d="M2215.9 219.9L2219.3 220.2"/>
<path d="M2219.3 220.2L2222.7 220.5"/>
<path d="M2222.7 220.5L2226.1 220.9"/>
<path d="M2226.1 220.9L2229.5 221.2"/>
<path d="M2229.5 221.2L2232.9 221.5"/>
<path d="M2232.9 221.5L2236.3 221.9"/>
<path d="M2236.3 221.9L2239.7 222.3"/>
<path d="M2239.7 222.3L2243.1 222.7"/>
<path d="M2243.1 222.7L2246.5 223.2"/>
<path d="M2246.5 223.2L2249.9 223.6"/>
<path d="M2249.9 223.6L2253.3 224.1"/>
<path d="M2253.3 224.1L2256.7 224.6"/>
<path d="M2256.7 224.6L2260.1 225.1"/>
<path d="M2260.1 225.1L2263.5 225.7"/>
<path d="M2263.5 225.7L2266.9 226.2"/>
<path d="M2266.9 226.2L2270.3 226.8"/>
<path d="M2270.3 226.8L2273.7 227.4"/>
<path d="M2273.7 227.4L2277.2 228.0"/>
<path d="M2277.2 228.0L2280.6 228.6"/>
<path d="M2280.6 228.6L2284.0 229.2"/>
<path d="M2284.0 229.2L2287.4 229.8"/>
<path d="M2287.4 229.8L2290.8 230.5"/>
<path d="M2290.8 230.5L2294.2 231.1"/>
<path d="M2294.2 231.1L2297.6 231.8"/>
<path d="M2297.6 231.8L2301.0 232.4"/>
<path d="M2301.0 232.4L2304.4 233.1"/>
<path d="M2304.4 233.1L2307.8 233.8"/>
</g>
<path d="M1494.8 558.5L1491.9 564.6" stroke="#0000ff" stroke-width="3.6" fill="none"/>
<circle cx="283.4" cy="122.2" r="14.1" fill="#fff" stroke="#0000ff" stroke-width="2.1"/>
<circle cx="380.8" cy="122.1" r="14.1" fill="#fff" stroke="#0000ff" stroke-width="2.1"/>
<circle cx="478.1" cy="121.7" r="14.1" fill="#fff" stroke="#0000ff" stroke-width="2.1"/>
<circle cx="575.5" cy="121.0" r="14.1" fill="#fff" stroke="#0000ff" stroke-width="2.1"/>
<circle cx="672.8" cy="119.8" r="14.1" fill="#fff" stroke="#0000ff" stroke-width="2.1"/>
<circle cx="770.2" cy="117.8" r="14.1" fill="#fff" stroke="#0000ff" stroke-width="2.1"/>
<circle cx="867.5" cy="113.5" r="14.1" fill="#fff" stroke="#0000ff" stroke-width="2.1"/>
<circle cx="964.9" cy="110.2" r="14.1" fill="#fff" stroke="#0000ff" stroke-width="2.1"/>
<circle cx="1062.2" cy="105.6" r="14.1" fill="#fff" stroke="#0000ff" stroke-width="2.1"/>
<circle cx="1159.5" cy="100.7" r="14.1" fill="#fff" stroke="#0000ff" stroke-width="2.1"/>
<circle cx="1256.9" cy="107.6" r="14.1" fill="#fff" stroke="#0000ff" stroke-width="2.1"/>
<circle cx="1354.1" cy="164.4" r="14.1" fill="#fff" stroke="#0000ff" stroke-width="2.1"/>
<circle cx="1451.3" cy="344.3" r="14.1" fill="#fff" stroke="#0000ff" stroke-width="2.1"/>
<circle cx="1549.2" cy="364.3" r="14.1" fill="#fff" stroke="#0000ff" stroke-width="2.1"/>
<circle cx="1646.2" cy="270.2" r="14.1" fill="#fff" stroke="#0000ff" stroke-width="2.1"/>
<circle cx="1743.6" cy="237.9" r="14.1" fill="#fff" stroke="#0000ff" stroke-width="2.1"/>
<circle cx="1841.0" cy="222.1" r="14.1" fill="#fff" stroke="#0000ff" stroke-width="2.1"/>
<circle cx="1938.3" cy="214.0" r="14.1" fill="#fff" stroke="#0000ff" stroke-width="2.1"/>
<circle cx="2035.7" cy="212.5" r="14.1" fill="#fff" stroke="#0000ff" stroke-width="2.1"/>
<circle cx="2133.0" cy="214.3" r="14.1" fill="#fff" stroke="#0000ff" stroke-width="2.1"/>
<circle cx="2230.4" cy="221.3" r="14.1" fill="#fff" stroke="#0000ff" stroke-width="2.1"/>
<g fill="none" stroke="#ff0000" stroke-width="14.5">
<path d="M279.0 122.3L282.4 122.3"/>
<path d="M282.4 122.3L285.8 122.3"/>
<path d="M285.8 122.3L289.2 122.3"/>
<path d="M289.2 122.3L292.6 122.3"/>
<path d="M292.6 122.3L296.0 122.3"/>
<path d="M296.0 122.3L299.4 122.3"/>
<path d="M299.4 122.3L302.8 122.3"/>
<path d="M302.8 122.3L306.2 122.3"/>
<path d="M306.2 122.3L309.6 122.3"/>
<path d="M309.6 122.3L313.0 122.3"/>
<path d="M313.0 122.3L316.4 122.3"/>
<path d="M316.4 122.3L319.8 122.3"/>
<path d="M319.8 122.3L323.2 122.3"/>
<path d="M323.2 122.3L326.6 122.3"/>
<path d="M326.6 122.3L330.0 122.3"/>
<path d="M330.0 122.3L333.4 122.3"/>
<path d="M333.4 122.3L336.8 122.3"/>
<path d="M336.8 122.3L340.2 122.3"/>
<path d="M340.2 122.3L343.6 122.3"/>
<path d="M343.6 122.3L347.0 122.3"/>
<path d="M347.0 122.3L350.4 122.2"/>
<path d="M350.4 122.2L353.8 122.2"/>
<path d="M353.8 122.2L357.2 122.2"/>
<path d="M357.2 122.2L360.6 122.2"/>
<path d="M360.6 122.2L364.0 122.2"/>
<path d="M364.0 122.2L367.4 122.2"/>
<path d="M367.4 122.2L370.8 122.2"/>
<path d="M370.8 122.2L374.2 122.2"/>
<path d="M374.2 122.2L377.6 122.2"/>
<path d="M377.6 122.2L381.0 122.2"/>
<path d="M381.0 122.2L384.4 122.2"/>
<path d="M384.4 122.2L387.8 122.2"/>
<path d="M387.8 122.2L391.2 122.2"/>
<path d="M391.2 122.2L394.6 122.2"/>
<path d="M394.6 122.2L398.0 122.2"/>
<path d="M398.0 122.2L401.4 122.2"/>
<path d="M401.4 122.2L404.8 122.1"/>
<path d="M404.8 122.1L408.2 122.1"/>
<path d="M408.2 122.1L411.7 122.1"/>
<path d="M411.7 122.1L415.1 122.1"/>
<path d="M415.1 122.1L418.5 122.1"/>
<path d="M418.5 122.1L421.9 122.1"/>
<path d="M421.9 122.1L425.3 122.1"/>
<path d="M425.3 122.1L428.7 122.0"/>
<path d="M428.7 122.0L432.1 122.0"/>
<path d="M432.1 122.0L435.5 122.0"/>
<path d="M435.5 122.0L438.9 122.0"/>
<path d="M438.9 122.0L442.3 122.0"/>
<path d="M442.3 122.0L445.7 121.9"/>
<path d="M445.7 121.9L449.1 121.9"/>
<path d="M449.1 121.9L452.5 121.9"/>
<path d="M452.5 121.9L455.9 121.9"/>
<path d="M455.9 121.9L459.3 121.9"/>
<path d="M459.3 121.9L462.7 121.8"/>
<path d="M462.7 121.8L466.1 121.8"/>
<path d="M466.1 121.8L469.5 121.8"/>
<path d="M469.5 121.8L472.9 121.8"/>
<path d="M472.9 121.8L476.3 121.8"/>
<path d="M476.3 121.8L479.7 121.8"/>
<path d="M479.7 121.8L483.1 121.7"/>
<path d="M483.1 121.7L486.5 121.7"/>
<path d="M486.5 121.7L489.9 121.7"/>
<path d="M489.9 121.7L493.3 121.7"/>
<path d="M493.3 121.7L496.7 121.7"/>
<path d="M496.7 121.7L500.1 121.7"/>
<path d="M500.1 121.7L503.5 121.6"/>
<path d="M503.5 121.6L506.9 121.6"/>
<path d="M506.9 121.6L510.3 121.6"/>
<path d="M510.3 121.6L513.7 121.6"/>
<path d="M513.7 121.6L517.1 121.6"/>
<path d="M517.1 121.6L520.5 121.6"/>
<path d="M520.5 121.6L523.9 121.6"/>
<path d="M523.9 121.6L527.3 121.6"/>
<path d="M527.3 121.6L530.7 121.5"/>
<path d="M530.7 121.5L534.1 121.5"/>
<path d="M534.1 121.5L537.5 121.5"/>
<path d="M537.5 121.5L540.9 121.5"/>
<path d="M540.9 121.5L544.3 121.5"/>
<path d="M544.3 121.5L547.7 121.5"/>
<path d="M547.7 121.5L551.1 121.5"/>
<path d="M551.1 121.5L554.5 121.4"/>
<path d="M554.5 121.4L557.9 121.4"/>
<path d="M557.9 121.4L561.3 121.4"/>
<path d="M561.3 121.4L564.7 121.4"/>
<path d="M564.7 121.4L568.1 121.4"/>
<path d="M568.1 121.4L571.5 121.4"/>
<path d="M571.5 121.4L574.9 121.3"/>
<path d="M574.9 121.3L578.3 121.3"/>
<path d="M578.3 121.3L581.7 121.3"/>
<path d="M581.7 121.3L585.1 121.3"/>
<path d="M585.1 121.3L588.5 121.3"/>
<path d="M588.5 121.3L591.9 121.2"/>
<path d="M591.9 121.2L595.3 121.2"/>
<path d="M595.3 121.2L598.7 121.2"/>
<path d="M598.7 121.2L602.1 121.2"/>
<path d="M602.1 121.2L605.5 121.1"/>
<path d="M605.5 121.1L608.9 121.1"/>
<path d="M608.9 121.1L612.3 121.1"/>
<path d="M612.3 121.1L615.7 121.0"/>
<path d="M615.7 121.0L619.1 121.0"/>
<path d="M619.1 121.0L622.5 121.0"/>
<path d="M622.5 121.0L625.9 120.9"/>
<path d="M625.9 120.9L629.3 120.9"/>
<path d="M629.3 120.9L632.7 120.8"/>
<path d="M632.7 120.8L636.1 120.8"/>
<path d="M636.1 120.8L639.5 120.7"/>
<path d="M639.5 120.7L642.9 120.7"/>
<path d="M642.9 120.7L646.3 120.6"/>
<path d="M646.3 120.6L649.7 120.6"/>
<path d="M649.7 120.6L653.1 120.5"/>
<path d="M653.1 120.5L656.5 120.4"/>
<path d="M656.5 120.4L659.9 120.4"/>
<path d="M659.9 120.4L663.3 120.3"/>
<path d="M663.3 120.3L666.7 120.3"/>
<path d="M666.7 120.3L670.1 120.2"/>
<path d="M670.1 120.2L673.6 120.1"/>
<path d="M673.6 120.1L677.0 120.1"/>
<path d="M677.0 120.1L680.4 120.0"/>
<path d="M680.4 120.0L683.8 119.9"/>
<path d="M683.8 119.9L687.2 119.9"/>
<path d="M687.2 119.9L690.6 119.8"/>
<path d="M690.6 119.8L694.0 119.7"/>
<path d="M694.0 119.7L697.4 119.7"/>
<path d="M697.4 119.7L700.8 119.6"/>
<path d="M700.8 119.6L704.2 119.5"/>
<path d="M704.2 119.5L707.6 119.4"/>
<path d="M707.6 119.4L711.0 119.4"/>
<path d="M711.0 119.4L714.4 119.3"/>
<path d="M714.4 119.3L717.8 119.2"/>
<path d="M717.8 119.2L721.2 119.1"/>
<path d="M721.2 119.1L724.6 119.0"/>
<path d="M724.6 119.0L728.0 118.9"/>
<path d="M728.0 118.9L731.4 118.8"/>
<path d="M731.4 118.8L734.8 118.7"/>
<path d="M734.8 118.7L738.2 118.6"/>
<path d="M738.2 118.6L741.6 118.5"/>
<path d="M741.6 118.5L745.0 118.4"/>
<path d="M745.0 118.4L748.4 118.3"/>
<path d="M748.4 118.3L751.8 118.2"/>
<path d="M751.8 118.2L755.2 118.1"/>
<path d="M755.2 118.1L758.6 118.0"/>
<path d="M758.6 118.0L762.0 117.9"/>
<path d="M762.0 117.9L765.4 117.8"/>
<path d="M765.4 117.8L768.8 117.7"/>
<path d="M768.8 117.7L772.2 117.6"/>
<path d="M772.2 117.6L775.6 117.4"/>
<path d="M775.6 117.4L779.0 117.3"/>
<path d="M779.0 117.3L782.4 117.2"/>
<path d="M782.4 117.2L785.8 117.1"/>
<path d="M785.8 117.1L789.2 117.0"/>
<path d="M789.2 117.0L792.6 116.9"/>
<path d="M792.6 116.9L796.0 116.8"/>
<path d="M796.0 116.8L799.4 116.7"/>
<path d="M799.4 116.7L802.8 116.6"/>
<path d="M802.8 116.6L806.2 116.6"/>
<path d="M806.2 116.6L809.6 116.5"/>
<path d="M809.6 116.5L813.0 116.4"/>
<path d="M813.0 116.4L816.4 116.3"/>
<path d="M816.4 116.3L819.8 116.3"/>
<path d="M819.8 116.3L823.2 116.2"/>
<path d="M823.2 116.2L826.6 116.1"/>
<path d="M826.6 116.1L830.0 116.1"/>
<path d="M830.0 116.1L833.4 116.0"/>
<path d="M833.4 116.0L836.8 115.9"/>
<path d="M836.8 115.9L840.2 115.9"/>
<path d="M840.2 115.9L843.6 115.8"/>
<path d="M843.6 115.8L847.0 115.8"/>
<path d="M847.0 115.8L850.4 115.7"/>
<path d="M850.4 115.7L853.8 115.6"/>
<path d="M853.8 115.6L857.2 115.6"/>
<path d="M857.2 115.6L860.6 115.5"/>
<path d="M860.6 115.5L864.0 115.5"/>
<path d="M864.0 115.5L867.4 115.4"/>
<path d="M867.4 115.4L870.8 115.3"/>
<path d="M870.8 115.3L874.2 115.3"/>
<path d="M874.2 115.3L877.6 115.2"/>
<path d="M877.6 115.2L881.0 115.1"/>
<path d="M881.0 115.1L884.4 115.1"/>
<path d="M884.4 115.1L887.8 115.0"/>
<path d="M887.8 115.0L891.2 114.9"/>
<path d="M891.2 114.9L894.6 114.8"/>
<path d="M894.6 114.8L898.0 114.8"/>
<path d="M898.0 114.8L901.4 114.7"/>
<path d="M901.4 114.7L904.8 114.6"/>
<path d="M904.8 114.6L908.2 114.5"/>
<path d="M908.2 114.5L911.6 114.4"/>
<path d="M911.6 114.4L915.0 114.3"/>
<path d="M915.0 114.3L918.4 114.2"/>
<path d="M918.4 114.2L921.8 114.1"/>
<path d="M921.8 114.1L925.2 114.0"/>
<path d="M925.2 114.0L928.6 113.9"/>
<path d="M928.6 113.9L932.0 113.8"/>
<path d="M932.0 113.8L935.5 113.7"/>
<path d="M935.5 113.7L938.9 113.6"/>
<path d="M938.9 113.6L942.3 113.5"/>
<path d="M942.3 113.5L945.7 113.4"/>
<path d="M945.7 113.4L949.1 113.3"/>
<path d="M949.1 113.3L952.5 113.2"/>
<path d="M952.5 113.2L955.9 113.1"/>
<path d="M955.9 113.1L959.3 113.0"/>
<path d="M959.3 113.0L962.7 112.9"/>
<path d="M962.7 112.9L966.1 112.8"/>
<path d="M966.1 112.8L969.5 112.7"/>
<path d="M969.5 112.7L972.9 112.6"/>
<path d="M972.9 112.6L976.3 112.5"/>
<path d="M976.3 112.5L979.7 112.4"/>
<path d="M979.7 112.4L983.1 112.3"/>
<path d="M983.1 112.3L986.5 112.2"/>
<path d="M986.5 112.2L989.9 112.1"/>
<path d="M989.9 112.1L993.3 112.0"/>
<path d="M993.3 112.0L996.7 111.9"/>
<path d="M996.7 111.9L1000.1 111.7"/>
<path d="M1000.1 111.7L1003.5 111.6"/>
<path d="M1003.5 111.6L1006.9 111.5"/>
<path d="M1006.9 111.5L1010.3 111.4"/>
<path d="M1010.3 111.4L1013.7 111.3"/>
<path d="M1013.7 111.3L1017.1 111.2"/>
<path d="M1017.1 111.2L1020.5 111.1"/>
<path d="M1020.5 111.1L1023.9 111.0"/>
<path d="M1023.9 111.0L1027.3 110.9"/>
<path d="M1027.3 110.9L1030.7 110.8"/>
<path d="M1030.7 110.8L1034.1 110.6"/>
<path d="M1034.1 110.6L1037.5 110.5"/>
<path d="M1037.5 110.5L1040.9 110.4"/>
<path d="M1040.9 110.4L1044.3 110.3"/>
<path d="M1044.3 110.3L1047.7 110.2"/>
<path d="M1047.7 110.2L1051.1 110.1"/>
<path d="M1051.1 110.1L1054.5 109.9"/>
<path d="M1054.5 109.9L1057.9 109.8"/>
<path d="M1057.9 109.8L1061.3 109.7"/>
<path d="M1061.3 109.7L1064.7 109.6"/>
<path d="M1064.7 109.6L1068.1 109.5"/>
<path d="M1068.1 109.5L1071.5 109.3"/>
<path d="M1071.5 109.3L1074.9 109.2"/>
<path d="M1074.9 109.2L1078.3 109.1"/>
<path d="M1078.3 109.1L1081.7 108.9"/>
<path d="M1081.7 108.9L1085.1 108.8"/>
<path d="M1085.1 108.8L1088.5 108.7"/>
<path d="M1088.5 108.7L1091.9 108.5"/>
<path d="M1091.9 108.5L1095.3 108.4"/>
<path d="M1095.3 108.4L1098.7 108.3"/>
<path d="M1098.7 108.3L1102.1 108.1"/>
<path d="M1102.1 108.1L1105.5 108.0"/>
<path d="M1105.5 108.0L1108.9 107.8"/>
<path d="M1108.9 107.8L1112.3 107.7"/>
<path d="M1112.3 107.7L1115.7 107.5"/>
<path d="M1115.7 107.5L1119.1 107.3"/>
<path d="M1119.1 107.3L1122.5 107.2"/>
<path d="M1122.5 107.2L1125.9 107.0"/>
<path d="M1125.9 107.0L1129.3 106.8"/>
<path d="M1129.3 106.8L1132.7 106.6"/>
<path d="M1132.7 106.6L1136.1 106.5"/>
<path d="M1136.1 106.5L1139.5 106.3"/>
<path d="M1139.5 106.3L1142.9 106.1"/>
<path d="M1142.9 106.1L1146.3 105.9"/>
<path d="M1146.3 105.9L1149.7 105.7"/>
<path d="M1149.7 105.7L1153.1 105.5"/>
<path d="M1153.1 105.5L1156.5 105.3"/>
<path d="M1156.5 105.3L1159.9 105.2"/>
<path d="M1159.9 105.2L1163.3 105.0"/>
<path d="M1163.3 105.0L1166.7 104.8"/>
<path d="M1166.7 104.8L1170.1 104.6"/>
<path d="M1170.1 104.6L1173.5 104.4"/>
<path d="M1173.5 104.4L1176.9 104.3"/>
<path d="M1176.9 104.3L1180.3 104.1"/>
<path d="M1180.3 104.1L1183.7 103.9"/>
<path d="M1183.7 103.9L1187.1 103.7"/>
<path d="M1187.1 103.7L1190.5 103.6"/>
<path d="M1190.5 103.6L1194.0 103.4"/>
<path d="M1194.0 103.4L1197.4 103.3"/>
<path d="M1197.4 103.3L1200.8 103.1"/>
<path d="M1200.8 103.1L1204.2 103.0"/>
<path d="M1204.2 103.0L1207.6 102.9"/>
<path d="M1207.6 102.9L1211.0 102.7"/>
<path d="M1211.0 102.7L1214.4 102.6"/>
<path d="M1214.4 102.6L1217.8 102.5"/>
<path d="M1217.8 102.5L1221.2 102.3"/>
<path d="M1221.2 102.3L1224.6 102.2"/>
<path d="M1224.6 102.2L1228.0 102.1"/>
<path d="M1228.0 102.1L1231.4 102.0"/>
<path d="M1231.4 102.0L1234.8 101.8"/>
<path d="M1234.8 101.8L1238.2 101.7"/>
<path d="M1238.2 101.7L1241.6 101.7"/>
<path d="M1241.6 101.7L1245.0 101.6"/>
<path d="M1245.0 101.6L1248.4 101.5"/>
<path d="M1248.4 101.5L1251.8 101.5"/>
<path d="M1251.8 101.5L1255.2 101.4"/>
<path d="M1255.2 101.4L1258.6 101.4"/>
<path d="M1258.6 101.4L1262.0 101.4"/>
<path d="M1262.0 101.4L1265.4 101.3"/>
<path d="M1265.4 101.3L1268.8 101.3"/>
<path d="M1268.8 101.3L1272.2 101.3"/>
<path d="M1272.2 101.3L1275.6 101.3"/>
<path d="M1275.6 101.3L1279.0 101.2"/>
<path d="M1279.0 101.2L1282.4 101.2"/>
<path d="M1282.4 101.2L1285.8 101.2"/>
<path d="M1285.8 101.2L1289.2 101.2"/>
<path d="M1289.2 101.2L1292.6 101.2"/>
<path d="M1292.6 101.2L1296.0 101.3"/>
<path d="M1296.0 101.3L1299.4 101.5"/>
<path d="M1299.4 101.5L1302.8 101.7"/>
<path d="M1302.8 101.7L1306.2 102.0"/>
<path d="M1306.2 102.0L1309.6 102.4"/>
<path d="M1309.6 102.4L1313.0 102.7"/>
<path d="M1313.0 102.7L1316.4 103.1"/>
<path d="M1316.4 103.1L1319.8 103.5"/>
<path d="M1319.8 103.5L1323.2 103.9"/>
<path d="M1323.2 103.9L1326.6 104.3"/>
<path d="M1326.6 104.3L1330.0 104.8"/>
<path d="M1330.0 104.8L1333.4 105.4"/>
<path d="M1333.4 105.4L1336.8 106.0"/>
<path d="M1336.8 106.0L1340.2 106.6"/>
<path d="M1340.2 106.6L1343.6 107.4"/>
<path d="M1343.6 107.4L1347.0 108.2"/>
<path d="M1347.0 108.2L1350.4 109.0"/>
<path d="M1350.4 109.0L1353.8 110.1"/>
<path d="M1353.8 110.1L1357.2 111.3"/>
<path d="M1357.2 111.3L1360.6 112.6"/>
<path d="M1360.6 112.6L1364.0 114.0"/>
<path d="M1364.0 114.0L1367.4 115.6"/>
<path d="M1367.4 115.6L1370.8 117.2"/>
<path d="M1370.8 117.2L1374.2 118.8"/>
<path d="M1374.2 118.8L1377.6 120.5"/>
<path d="M1377.6 120.5L1381.0 122.3"/>
<path d="M1381.0 122.3L1384.4 124.0"/>
<path d="M1384.4 124.0L1387.8 125.7"/>
<path d="M1387.8 125.7L1391.2 127.5"/>
<path d="M1391.2 127.5L1394.6 129.3"/>
<path d="M1394.6 129.3L1398.0 131.2"/>
<path d="M1398.0 131.2L1401.4 133.2"/>
<path d="M1401.4 133.2L1404.8 135.2"/>
<path d="M1404.8 135.2L1408.2 137.3"/>
<path d="M1408.2 137.3L1411.6 139.5"/>
<path d="M1411.6 139.5L1415.0 141.8"/>
<path d="M1415.0 141.8L1418.4 144.2"/>
<path d="M1418.4 144.2L1421.8 146.8"/>
<path d="M1421.8 146.8L1425.2 149.4"/>
<path d="M1425.2 149.4L1428.6 152.3"/>
<path d="M1428.6 152.3L1432.0 155.5"/>
<path d="M1432.0 155.5L1435.4 159.0"/>
<path d="M1435.4 159.0L1438.8 162.7"/>
<path d="M1438.8 162.7L1442.2 166.6"/>
<path d="M1442.2 166.6L1445.6 170.7"/>
<path d="M1445.6 170.7L1449.0 174.8"/>
<path d="M1449.0 174.8L1452.4 179.1"/>
<path d="M1452.4 179.1L1455.9 183.3"/>
<path d="M1455.9 183.3L1459.3 187.8"/>
<path d="M1459.3 187.8L1462.7 192.5"/>
<path d="M1462.7 192.5L1466.1 197.2"/>
<path d="M1466.1 197.2L1469.5 201.7"/>
<path d="M1469.5 201.7L1472.9 206.7"/>
<path d="M1472.9 206.7L1476.3 212.7"/>
<path d="M1476.3 212.7L1479.7 219.4"/>
<path d="M1479.7 219.4L1483.1 226.9"/>
<path d="M1483.1 226.9L1486.5 235.3"/>
<path d="M1486.5 235.3L1489.9 244.6"/>
<path d="M1489.9 244.6L1493.3 252.0"/>
<path d="M1493.3 252.0L1496.7 252.5"/>
<path d="M1496.7 252.5L1500.1 250.7"/>
<path d="M1500.1 250.7L1503.5 247.8"/>
<path d="M1503.5 247.8L1506.9 248.1"/>
<path d="M1506.9 248.1L1510.3 255.8"/>
<path d="M1510.3 255.8L1513.7 267.0"/>
<path d="M1513.7 267.0L1517.1 276.7"/>
<path d="M1517.1 276.7L1520.5 285.0"/>
<path d="M1520.5 285.0L1523.9 293.0"/>
<path d="M1523.9 293.0L1527.3 301.4"/>
<path d="M1527.3 301.4L1530.7 310.7"/>
<path d="M1530.7 310.7L1534.1 320.5"/>
<path d="M1534.1 320.5L1537.5 330.5"/>
<path d="M1537.5 330.5L1540.9 340.4"/>
<path d="M1540.9 340.4L1544.3 349.9"/>
<path d="M1544.3 349.9L1547.7 360.1"/>
<path d="M1547.7 360.1L1551.1 372.0"/>
<path d="M1551.1 372.0L1554.5 386.6"/>
<path d="M1554.5 386.6L1557.9 402.8"/>
<path d="M1557.9 402.8L1561.3 420.4"/>
<path d="M1561.3 420.4L1564.7 439.5"/>
<path d="M1564.7 439.5L1568.1 459.8"/>
<path d="M1568.1 459.8L1571.5 480.6"/>
<path d="M1571.5 480.6L1574.9 502.0"/>
<path d="M1574.9 502.0L1578.3 524.0"/>
<path d="M1578.3 524.0L1581.7 546.1"/>
<path d="M1581.7 546.1L1585.1 568.4"/>
<path d="M1588.2 568.6L1591.6 549.3"/>
<path d="M1591.6 549.3L1595.0 530.1"/>
<path d="M1595.0 530.1L1598.4 510.7"/>
<path d="M1598.4 510.7L1601.8 491.5"/>
<path d="M1601.8 491.5L1605.2 473.3"/>
<path d="M1605.2 473.3L1608.6 455.5"/>
<path d="M1608.6 455.5L1612.0 439.6"/>
<path d="M1612.0 439.6L1615.4 426.8"/>
<path d="M1615.4 426.8L1618.7 415.7"/>
<path d="M1618.7 415.7L1622.1 405.6"/>
<path d="M1622.1 405.6L1625.5 395.8"/>
<path d="M1625.5 395.8L1628.9 386.2"/>
<path d="M1628.9 386.2L1632.3 377.4"/>
<path d="M1632.3 377.4L1635.7 369.8"/>
<path d="M1635.7 369.8L1639.1 363.5"/>
<path d="M1639.1 363.5L1642.5 357.9"/>
<path d="M1642.5 357.9L1645.9 352.9"/>
<path d="M1645.9 352.9L1649.3 348.2"/>
<path d="M1649.3 348.2L1652.7 343.5"/>
<path d="M1652.7 343.5L1656.1 338.7"/>
<path d="M1656.1 338.7L1659.5 333.9"/>
<path d="M1659.5 333.9L1662.9 329.4"/>
<path d="M1662.9 329.4L1666.3 325.1"/>
<path d="M1666.3 325.1L1669.7 321.3"/>
<path d="M1669.7 321.3L1673.1 317.8"/>
<path d="M1673.1 317.8L1676.5 314.5"/>
<path d="M1676.5 314.5L1679.8 311.4"/>
<path d="M1679.8 311.4L1683.2 308.4"/>
<path d="M1683.2 308.4L1686.6 305.6"/>
<path d="M1686.6 305.6L1690.0 302.9"/>
<path d="M1690.0 302.9L1693.4 300.3"/>
<path d="M1693.4 300.3L1696.8 297.8"/>
<path d="M1696.8 297.8L1700.2 295.3"/>
<path d="M1700.2 295.3L1703.6 293.0"/>
<path d="M1703.6 293.0L1707.0 290.7"/>
<path d="M1707.0 290.7L1710.4 288.4"/>
<path d="M1710.4 288.4L1713.8 286.2"/>
<path d="M1713.8 286.2L1717.2 284.1"/>
<path d="M1717.2 284.1L1720.6 282.0"/>
<path d="M1720.6 282.0L1724.0 280.0"/>
<path d="M1724.0 280.0L1727.4 278.1"/>
<path d="M1727.4 278.1L1730.8 276.2"/>
<path d="M1730.8 276.2L1734.2 274.4"/>
<path d="M1734.2 274.4L1737.6 272.6"/>
<path d="M1737.6 272.6L1740.9 270.9"/>
<path d="M1740.9 270.9L1744.3 269.3"/>
<path d="M1744.3 269.3L1747.7 267.7"/>
<path d="M1747.7 267.7L1751.1 266.1"/>
<path d="M1751.1 266.1L1754.5 264.6"/>
<path d="M1754.5 264.6L1757.9 263.1"/>
<path d="M1757.9 263.1L1761.3 261.7"/>
<path d="M1761.3 261.7L1764.7 260.3"/>
<path d="M1764.7 260.3L1768.1 259.0"/>
<path d="M1768.1 259.0L1771.5 257.7"/>
<path d="M1771.5 257.7L1774.9 256.4"/>
<path d="M1774.9 256.4L1778.3 255.2"/>
<path d="M1778.3 255.2L1781.7 254.0"/>
<path d="M1781.7 254.0L1785.1 252.8"/>
<path d="M1785.1 252.8L1788.5 251.7"/>
<path d="M1788.5 251.7L1791.9 250.6"/>
<path d="M1791.9 250.6L1795.3 249.5"/>
<path d="M1795.3 249.5L1798.6 248.5"/>
<path d="M1798.6 248.5L1802.0 247.4"/>
<path d="M1802.0 247.4L1805.4 246.4"/>
<path d="M1805.4 246.4L1808.8 245.5"/>
<path d="M1808.8 245.5L1812.2 244.5"/>
<path d="M1812.2 244.5L1815.6 243.6"/>
<path d="M1815.6 243.6L1819.0 242.7"/>
<path d="M1819.0 242.7L1822.4 241.9"/>
<path d="M1822.4 241.9L1825.8 241.0"/>
<path d="M1825.8 241.0L1829.2 240.2"/>
<path d="M1829.2 240.2L1832.6 239.4"/>
<path d="M1832.6 239.4L1836.0 238.7"/>
<path d="M1836.0 238.7L1839.4 237.9"/>
<path d="M1839.4 237.9L1842.8 237.2"/>
<path d="M1842.8 237.2L1846.2 236.5"/>
<path d="M1846.2 236.5L1849.6 235.9"/>
<path d="M1849.6 235.9L1853.0 235.2"/>
<path d="M1853.0 235.2L1856.4 234.6"/>
<path d="M1856.4 234.6L1859.7 234.0"/>
<path d="M1859.7 234.0L1863.1 233.4"/>
<path d="M1863.1 233.4L1866.5 232.8"/>
<path d="M1866.5 232.8L1869.9 232.2"/>
<path d="M1869.9 232.2L1873.3 231.7"/>
<path d="M1873.3 231.7L1876.7 231.2"/>
<path d="M1876.7 231.2L1880.1 230.7"/>
<path d="M1880.1 230.7L1883.5 230.2"/>
<path d="M1883.5 230.2L1886.9 229.7"/>
<path d="M1886.9 229.7L1890.3 229.2"/>
<path d="M1890.3 229.2L1893.7 228.8"/>
<path d="M1893.7 228.8L1897.1 228.3"/>
<path d="M1897.1 228.3L1900.5 227.8"/>
<path d="M1900.5 227.8L1903.9 227.4"/>
<path d="M1903.9 227.4L1907.3 226.9"/>
<path d="M1907.3 226.9L1910.7 226.5"/>
<path d="M1910.7 226.5L1914.1 226.0"/>
<path d="M1914.1 226.0L1917.5 225.6"/>
<path d="M1917.5 225.6L1920.8 225.2"/>
<path d="M1920.8 225.2L1924.2 224.7"/>
<path d="M1924.2 224.7L1927.6 224.3"/>
<path d="M1927.6 224.3L1931.0 223.9"/>
<path d="M1931.0 223.9L1934.4 223.5"/>
<path d="M1934.4 223.5L1937.8 223.1"/>
<path d="M1937.8 223.1L1941.2 222.7"/>
<path d="M1941.2 222.7L1944.6 222.3"/>
<path d="M1944.6 222.3L1948.0 222.0"/>
<path d="M1948.0 222.0L1951.4 221.6"/>
<path d="M1951.4 221.6L1954.8 221.3"/>
<path d="M1954.8 221.3L1958.2 220.9"/>
<path d="M1958.2 220.9L1961.6 220.6"/>
<path d="M1961.6 220.6L1965.0 220.3"/>
<path d="M1965.0 220.3L1968.4 220.0"/>
<path d="M1968.4 220.0L1971.8 219.7"/>
<path d="M1971.8 219.7L1975.2 219.5"/>
<path d="M1975.2 219.5L1978.5 219.2"/>
<path d="M1978.5 219.2L1981.9 219.0"/>
<path d="M1981.9 219.0L1985.3 218.8"/>
<path d="M1985.3 218.8L1988.7 218.6"/>
<path d="M1988.7 218.6L1992.1 218.4"/>
<path d="M1992.1 218.4L1995.5 218.2"/>
<path d="M1995.5 218.2L1998.9 218.0"/>
<path d="M1998.9 218.0L2002.3 217.8"/>
<path d="M2002.3 217.8L2005.7 217.7"/>
<path d="M2005.7 217.7L2009.1 217.5"/>
<path d="M2009.1 217.5L2012.5 217.3"/>
<path d="M2012.5 217.3L2015.9 217.2"/>
<path d="M2015.9 217.2L2019.3 217.0"/>
<path d="M2019.3 217.0L2022.7 216.8"/>
<path d="M2022.7 216.8L2026.1 216.7"/>
<path d="M2026.1 216.7L2029.5 216.6"/>
<path d="M2029.5 216.6L2032.9 216.4"/>
<path d="M2032.9 216.4L2036.3 216.3"/>
<path d="M2036.3 216.3L2039.6 216.2"/>
<path d="M2039.6 216.2L2043.0 216.1"/>
<path d="M2043.0 216.1L2046.4 216.0"/>
<path d="M2046.4 216.0L2049.8 216.0"/>
<path d="M2049.8 216.0L2053.2 215.9"/>
<path d="M2053.2 215.9L2056.6 215.9"/>
<path d="M2056.6 215.9L2060.0 215.9"/>
<path d="M2060.0 215.9L2063.4 215.9"/>
<path d="M2063.4 215.9L2066.8 215.9"/>
<path d="M2066.8 215.9L2070.2 215.9"/>
<path d="M2070.2 215.9L2073.6 215.9"/>
<path d="M2073.6 215.9L2077.0 215.9"/>
<path d="M2077.0 215.9L2080.4 215.9"/>
<path d="M2080.4 215.9L2083.8 215.9"/>
<path d="M2083.8 215.9L2087.2 215.9"/>
<path d="M2087.2 215.9L2090.6 215.9"/>
<path d="M2090.6 215.9L2094.0 215.9"/>
<path d="M2094.0 215.9L2097.4 215.9"/>
<path d="M2097.4 215.9L2100.7 215.9"/>
<path d="M2100.7 215.9L2104.1 215.9"/>
<path d="M2104.1 215.9L2107.5 216.0"/>
<path d="M2107.5 216.0L2110.9 216.0"/>
<path d="M2110.9 216.0L2114.3 216.1"/>
<path d="M2114.3 216.1L2117.7 216.1"/>
<path d="M2117.7 216.1L2121.1 216.2"/>
<path d="M2121.1 216.2L2124.5 216.3"/>
<path d="M2124.5 216.3L2127.9 216.4"/>
<path d="M2127.9 216.4L2131.3 216.5"/>
<path d="M2131.3 216.5L2134.7 216.6"/>
<path d="M2134.7 216.6L2138.1 216.7"/>
<path d="M2138.1 216.7L2141.5 216.9"/>
<path d="M2141.5 216.9L2144.9 217.0"/>
<path d="M2144.9 217.0L2148.3 217.1"/>
<path d="M2148.3 217.1L2151.7 217.3"/>
<path d="M2151.7 217.3L2155.1 217.5"/>
<path d="M2155.1 217.5L2158.4 217.6"/>
<path d="M2158.4 217.6L2161.8 217.8"/>
<path d="M2161.8 217.8L2165.2 218.0"/>
<path d="M2165.2 218.0L2168.6 218.2"/>
<path d="M2168.6 218.2L2172.0 218.3"/>
<path d="M2172.0 218.3L2175.4 218.5"/>
<path d="M2175.4 218.5L2178.8 218.7"/>
<path d="M2178.8 218.7L2182.2 218.9"/>
<path d="M2182.2 218.9L2185.6 219.1"/>
<path d="M2185.6 219.1L2189.0 219.3"/>
<path d="M2189.0 219.3L2192.4 219.5"/>
<path d="M2192.4 219.5L2195.8 219.7"/>
<path d="M2195.8 219.7L2199.2 219.9"/>
<path d="M2199.2 219.9L2202.6 220.2"/>
<path d="M2202.6 220.2L2206.0 220.4"/>
<path d="M2206.0 220.4L2209.4 220.6"/>
<path d="M2209.4 220.6L2212.8 220.8"/>
<path d="M2212.8 220.8L2216.2 221.1"/>
<path d="M2216.2 221.1L2219.5 221.4"/>
<path d="M2219.5 221.4L2222.9 221.7"/>
<path d="M2222.9 221.7L2226.3 222.0"/>
<path d="M2226.3 222.0L2229.7 222.3"/>
<path d="M2229.7 222.3L2233.1 222.7"/>
<path d="M2233.1 222.7L2236.5 223.0"/>
<path d="M2236.5 223.0L2239.9 223.4"/>
<path d="M2239.9 223.4L2243.3 223.8"/>
<path d="M2243.3 223.8L2246.7 224.2"/>
<path d="M2246.7 224.2L2250.1 224.6"/>
<path d="M2250.1 224.6L2253.5 225.1"/>
<path d="M2253.5 225.1L2256.9 225.5"/>
<path d="M2256.9 225.5L2260.3 226.0"/>
<path d="M2260.3 226.0L2263.7 226.4"/>
<path d="M2263.7 226.4L2267.1 226.9"/>
<path d="M2267.1 226.9L2270.5 227.4"/>
<path d="M2270.5 227.4L2273.9 227.9"/>
<path d="M2273.9 227.9L2277.3 228.4"/>
<path d="M2277.3 228.4L2280.6 228.9"/>
<path d="M2280.6 228.9L2284.0 229.4"/>
<path d="M2284.0 229.4L2287.4 230.0"/>
<path d="M2287.4 230.0L2290.8 230.5"/>
<path d="M2290.8 230.5L2294.2 231.1"/>
<path d="M2294.2 231.1L2297.6 231.6"/>
<path d="M2297.6 231.6L2301.0 232.2"/>
<path d="M2301.0 232.2L2304.4 232.7"/>
<path d="M2304.4 232.7L2307.8 233.3"/>
</g>
<path d="M1586.8 567.5L1585.0 574.0" stroke="#ff0000" stroke-width="3.6" fill="none"/>
<path d="M276.8 103.3L293.3 132.0L260.3 132.0Z" fill="#fff" stroke="#000" stroke-width="2.5" stroke-linejoin="miter"/>
<path d="M383.9 103.2L400.4 131.9L367.4 131.9Z" fill="#fff" stroke="#000" stroke-width="2.5" stroke-linejoin="miter"/>
<path d="M491.1 102.7L507.6 131.4L474.6 131.4Z" fill="#fff" stroke="#000" stroke-width="2.5" stroke-linejoin="miter"/>
<path d="M598.2 102.2L614.7 130.9L581.7 130.9Z" fill="#fff" stroke="#000" stroke-width="2.5" stroke-linejoin="miter"/>
<path d="M705.3 100.5L721.8 129.2L688.8 129.2Z" fill="#fff" stroke="#000" stroke-width="2.5" stroke-linejoin="miter"/>
<path d="M812.5 97.4L829.0 126.1L796.0 126.1Z" fill="#fff" stroke="#000" stroke-width="2.5" stroke-linejoin="miter"/>
<path d="M919.6 95.2L936.1 123.9L903.1 123.9Z" fill="#fff" stroke="#000" stroke-width="2.5" stroke-linejoin="miter"/>
<path d="M1026.7 91.9L1043.2 120.6L1010.2 120.6Z" fill="#fff" stroke="#000" stroke-width="2.5" stroke-linejoin="miter"/>
<path d="M1133.8 87.6L1150.3 116.3L1117.3 116.3Z" fill="#fff" stroke="#000" stroke-width="2.5" stroke-linejoin="miter"/>
<path d="M1241.0 82.7L1257.5 111.4L1224.5 111.4Z" fill="#fff" stroke="#000" stroke-width="2.5" stroke-linejoin="miter"/>
<path d="M1348.1 89.4L1364.6 118.1L1331.6 118.1Z" fill="#fff" stroke="#000" stroke-width="2.5" stroke-linejoin="miter"/>
<path d="M1455.5 164.8L1472.0 193.5L1439.0 193.5Z" fill="#fff" stroke="#000" stroke-width="2.5" stroke-linejoin="miter"/>
<path d="M1562.0 405.5L1578.5 434.2L1545.5 434.2Z" fill="#fff" stroke="#000" stroke-width="2.5" stroke-linejoin="miter"/>
<path d="M1669.4 302.7L1685.9 331.4L1652.9 331.4Z" fill="#fff" stroke="#000" stroke-width="2.5" stroke-linejoin="miter"/>
<path d="M1776.6 236.8L1793.1 265.5L1760.1 265.5Z" fill="#fff" stroke="#000" stroke-width="2.5" stroke-linejoin="miter"/>
<path d="M1883.8 211.1L1900.3 239.8L1867.3 239.8Z" fill="#fff" stroke="#000" stroke-width="2.5" stroke-linejoin="miter"/>
<path d="M1990.9 199.5L2007.4 228.2L1974.4 228.2Z" fill="#fff" stroke="#000" stroke-width="2.5" stroke-linejoin="miter"/>
<path d="M2098.0 196.9L2114.5 225.6L2081.5 225.6Z" fill="#fff" stroke="#000" stroke-width="2.5" stroke-linejoin="miter"/>
<path d="M2205.1 201.3L2221.6 230.0L2188.6 230.0Z" fill="#fff" stroke="#000" stroke-width="2.5" stroke-linejoin="miter"/>
</g>
<g stroke="#000" fill="none" stroke-width="1.6">
<path d="M279.1 22.9V715.0" stroke-width="1.8"/>
<path d="M251.4 687.5H2308.1" stroke-width="1.8"/>
<path d="M251.4 97.5H279.0"/>
<path d="M251.4 245.0H279.0"/>
<path d="M251.4 392.5H279.0"/>
<path d="M251.4 540.0H279.0"/>
<path d="M265.2 23.8H279.0"/>
<path d="M265.2 171.2H279.0"/>
<path d="M265.2 318.8H279.0"/>
<path d="M265.2 466.2H279.0"/>
<path d="M265.2 613.8H279.0"/>
<path d="M481.9 687.5V715.0"/>
<path d="M684.8 687.5V715.0"/>
<path d="M887.6 687.5V715.0"/>
<path d="M1090.4 687.5V715.0"/>
<path d="M1293.2 687.5V715.0"/>
<path d="M1496.0 687.5V715.0"/>
<path d="M1698.9 687.5V715.0"/>
<path d="M1901.7 687.5V715.0"/>
<path d="M2104.5 687.5V715.0"/>
<path d="M2307.3 687.5V715.0"/>
<path d="M380.5 687.5V701.3"/>
<path d="M583.3 687.5V701.3"/>
<path d="M786.2 687.5V701.3"/>
<path d="M989.0 687.5V701.3"/>
<path d="M1191.8 687.5V701.3"/>
<path d="M1394.6 687.5V701.3"/>
<path d="M1597.5 687.5V701.3"/>
<path d="M1800.3 687.5V701.3"/>
<path d="M2003.1 687.5V701.3"/>
<path d="M2205.9 687.5V701.3"/>
</g>
<g stroke="#b8b8b8" stroke-width="1" stroke-dasharray="3.6 3.6" fill="none">
<path d="M280.0 953.5H2307.2"/>
<path d="M280.0 1100.5H2307.2"/>
<path d="M280.0 1248.5H2307.2"/>
<path d="M280.0 1395.5H2307.2"/>
<path d="M482.5 882.2V1543.0"/>
<path d="M685.5 882.2V1543.0"/>
<path d="M888.5 882.2V1543.0"/>
<path d="M1090.5 882.2V1543.0"/>
<path d="M1293.5 882.2V1543.0"/>
<path d="M1496.5 882.2V1543.0"/>
<path d="M1699.5 882.2V1543.0"/>
<path d="M1902.5 882.2V1543.0"/>
<path d="M2105.5 882.2V1543.0"/>
</g>
<g clip-path="url(#cb)">
<g fill="none" stroke="#0000ff" stroke-width="14.5">
<path d="M279.0 978.0L282.4 978.0"/>
<path d="M282.4 978.0L285.8 978.0"/>
<path d="M285.8 978.0L289.2 977.9"/>
<path d="M289.2 977.9L292.6 977.9"/>
<path d="M292.6 977.9L296.0 977.9"/>
<path d="M296.0 977.9L299.4 977.9"/>
<path d="M299.4 977.9L302.8 977.9"/>
<path d="M302.8 977.9L306.2 977.8"/>
<path d="M306.2 977.8L309.6 977.8"/>
<path d="M309.6 977.8L313.0 977.8"/>
<path d="M313.0 977.8L316.4 977.8"/>
<path d="M316.4 977.8L319.8 977.7"/>
<path d="M319.8 977.7L323.3 977.7"/>
<path d="M323.3 977.7L326.7 977.7"/>
<path d="M326.7 977.7L330.1 977.7"/>
<path d="M330.1 977.7L333.5 977.7"/>
<path d="M333.5 977.7L336.9 977.6"/>
<path d="M336.9 977.6L340.3 977.6"/>
<path d="M340.3 977.6L343.7 977.6"/>
<path d="M343.7 977.6L347.1 977.6"/>
<path d="M347.1 977.6L350.5 977.5"/>
<path d="M350.5 977.5L353.9 977.5"/>
<path d="M353.9 977.5L357.3 977.5"/>
<path d="M357.3 977.5L360.7 977.5"/>
<path d="M360.7 977.5L364.1 977.4"/>
<path d="M364.1 977.4L367.5 977.4"/>
<path d="M367.5 977.4L370.9 977.4"/>
<path d="M370.9 977.4L374.3 977.3"/>
<path d="M374.3 977.3L377.7 977.3"/>
<path d="M377.7 977.3L381.1 977.3"/>
<path d="M381.1 977.3L384.5 977.3"/>
<path d="M384.5 977.3L387.9 977.2"/>
<path d="M387.9 977.2L391.3 977.2"/>
<path d="M391.3 977.2L394.7 977.2"/>
<path d="M394.7 977.2L398.1 977.1"/>
<path d="M398.1 977.1L401.5 977.1"/>
<path d="M401.5 977.1L404.9 977.1"/>
<path d="M404.9 977.1L408.3 977.0"/>
<path d="M408.3 977.0L411.8 977.0"/>
<path d="M411.8 977.0L415.2 977.0"/>
<path d="M415.2 977.0L418.6 976.9"/>
<path d="M418.6 976.9L422.0 976.9"/>
<path d="M422.0 976.9L425.4 976.9"/>
<path d="M425.4 976.9L428.8 976.8"/>
<path d="M428.8 976.8L432.2 976.8"/>
<path d="M432.2 976.8L435.6 976.8"/>
<path d="M435.6 976.8L439.0 976.7"/>
<path d="M439.0 976.7L442.4 976.7"/>
<path d="M442.4 976.7L445.8 976.7"/>
<path d="M445.8 976.7L449.2 976.6"/>
<path d="M449.2 976.6L452.6 976.6"/>
<path d="M452.6 976.6L456.0 976.6"/>
<path d="M456.0 976.6L459.4 976.5"/>
<path d="M459.4 976.5L462.8 976.5"/>
<path d="M462.8 976.5L466.2 976.5"/>
<path d="M466.2 976.5L469.6 976.5"/>
<path d="M469.6 976.5L473.0 976.4"/>
<path d="M473.0 976.4L476.4 976.4"/>
<path d="M476.4 976.4L479.8 976.4"/>
<path d="M479.8 976.4L483.2 976.3"/>
<path d="M483.2 976.3L486.6 976.3"/>
<path d="M486.6 976.3L490.0 976.3"/>
<path d="M490.0 976.3L493.4 976.2"/>
<path d="M493.4 976.2L496.9 976.2"/>
<path d="M496.9 976.2L500.3 976.2"/>
<path d="M500.3 976.2L503.7 976.1"/>
<path d="M503.7 976.1L507.1 976.1"/>
<path d="M507.1 976.1L510.5 976.1"/>
<path d="M510.5 976.1L513.9 976.0"/>
<path d="M513.9 976.0L517.3 976.0"/>
<path d="M517.3 976.0L520.7 976.0"/>
<path d="M520.7 976.0L524.1 975.9"/>
<path d="M524.1 975.9L527.5 975.9"/>
<path d="M527.5 975.9L530.9 975.9"/>
<path d="M530.9 975.9L534.3 975.8"/>
<path d="M534.3 975.8L537.7 975.8"/>
<path d="M537.7 975.8L541.1 975.8"/>
<path d="M541.1 975.8L544.5 975.8"/>
<path d="M544.5 975.8L547.9 975.7"/>
<path d="M547.9 975.7L551.3 975.7"/>
<path d="M551.3 975.7L554.7 975.7"/>
<path d="M554.7 975.7L558.1 975.6"/>
<path d="M558.1 975.6L561.5 975.6"/>
<path d="M561.5 975.6L564.9 975.6"/>
<path d="M564.9 975.6L568.3 975.6"/>
<path d="M568.3 975.6L571.7 975.5"/>
<path d="M571.7 975.5L575.1 975.5"/>
<path d="M575.1 975.5L578.5 975.5"/>
<path d="M578.5 975.5L581.9 975.5"/>
<path d="M581.9 975.5L585.4 975.4"/>
<path d="M585.4 975.4L588.8 975.4"/>
<path d="M588.8 975.4L592.2 975.4"/>
<path d="M592.2 975.4L595.6 975.4"/>
<path d="M595.6 975.4L599.0 975.3"/>
<path d="M599.0 975.3L602.4 975.3"/>
<path d="M602.4 975.3L605.8 975.3"/>
<path d="M605.8 975.3L609.2 975.3"/>
<path d="M609.2 975.3L612.6 975.2"/>
<path d="M612.6 975.2L616.0 975.2"/>
<path d="M616.0 975.2L619.4 975.2"/>
<path d="M619.4 975.2L622.8 975.2"/>
<path d="M622.8 975.2L626.2 975.2"/>
<path d="M626.2 975.2L629.6 975.1"/>
<path d="M629.6 975.1L633.0 975.1"/>
<path d="M633.0 975.1L636.4 975.1"/>
<path d="M636.4 975.1L639.8 975.1"/>
<path d="M639.8 975.1L643.2 975.0"/>
<path d="M643.2 975.0L646.6 975.0"/>
<path d="M646.6 975.0L650.0 975.0"/>
<path d="M650.0 975.0L653.4 975.0"/>
<path d="M653.4 975.0L656.8 974.9"/>
<path d="M656.8 974.9L660.2 974.9"/>
<path d="M660.2 974.9L663.6 974.9"/>
<path d="M663.6 974.9L667.0 974.8"/>
<path d="M667.0 974.8L670.5 974.8"/>
<path d="M670.5 974.8L673.9 974.8"/>
<path d="M673.9 974.8L677.3 974.7"/>
<path d="M677.3 974.7L680.7 974.7"/>
<path d="M680.7 974.7L684.1 974.7"/>
<path d="M684.1 974.7L687.5 974.6"/>
<path d="M687.5 974.6L690.9 974.6"/>
<path d="M690.9 974.6L694.3 974.6"/>
<path d="M694.3 974.6L697.7 974.5"/>
<path d="M697.7 974.5L701.1 974.5"/>
<path d="M701.1 974.5L704.5 974.5"/>
<path d="M704.5 974.5L707.9 974.4"/>
<path d="M707.9 974.4L711.3 974.4"/>
<path d="M711.3 974.4L714.7 974.3"/>
<path d="M714.7 974.3L718.1 974.3"/>
<path d="M718.1 974.3L721.5 974.3"/>
<path d="M721.5 974.3L724.9 974.2"/>
<path d="M724.9 974.2L728.3 974.2"/>
<path d="M728.3 974.2L731.7 974.1"/>
<path d="M731.7 974.1L735.1 974.1"/>
<path d="M735.1 974.1L738.5 974.1"/>
<path d="M738.5 974.1L741.9 974.0"/>
<path d="M741.9 974.0L745.3 974.0"/>
<path d="M745.3 974.0L748.7 973.9"/>
<path d="M748.7 973.9L752.1 973.9"/>
<path d="M752.1 973.9L755.5 973.8"/>
<path d="M755.5 973.8L759.0 973.8"/>
<path d="M759.0 973.8L762.4 973.7"/>
<path d="M762.4 973.7L765.8 973.7"/>
<path d="M765.8 973.7L769.2 973.6"/>
<path d="M769.2 973.6L772.6 973.6"/>
<path d="M772.6 973.6L776.0 973.5"/>
<path d="M776.0 973.5L779.4 973.5"/>
<path d="M779.4 973.5L782.8 973.4"/>
<path d="M782.8 973.4L786.2 973.4"/>
<path d="M786.2 973.4L789.6 973.3"/>
<path d="M789.6 973.3L793.0 973.2"/>
<path d="M793.0 973.2L796.4 973.2"/>
<path d="M796.4 973.2L799.8 973.1"/>
<path d="M799.8 973.1L803.2 973.1"/>
<path d="M803.2 973.1L806.6 973.0"/>
<path d="M806.6 973.0L810.0 972.9"/>
<path d="M810.0 972.9L813.4 972.9"/>
<path d="M813.4 972.9L816.8 972.8"/>
<path d="M816.8 972.8L820.2 972.7"/>
<path d="M820.2 972.7L823.6 972.7"/>
<path d="M823.6 972.7L827.0 972.6"/>
<path d="M827.0 972.6L830.4 972.5"/>
<path d="M830.4 972.5L833.8 972.4"/>
<path d="M833.8 972.4L837.2 972.3"/>
<path d="M837.2 972.3L840.6 972.3"/>
<path d="M840.6 972.3L844.1 972.2"/>
<path d="M844.1 972.2L847.5 972.1"/>
<path d="M847.5 972.1L850.9 972.0"/>
<path d="M850.9 972.0L854.3 971.9"/>
<path d="M854.3 971.9L857.7 971.8"/>
<path d="M857.7 971.8L861.1 971.7"/>
<path d="M861.1 971.7L864.5 971.6"/>
<path d="M864.5 971.6L867.9 971.4"/>
<path d="M867.9 971.4L871.3 971.3"/>
<path d="M871.3 971.3L874.7 971.1"/>
<path d="M874.7 971.1L878.1 971.0"/>
<path d="M878.1 971.0L881.5 970.8"/>
<path d="M881.5 970.8L884.9 970.6"/>
<path d="M884.9 970.6L888.3 970.5"/>
<path d="M888.3 970.5L891.7 970.3"/>
<path d="M891.7 970.3L895.1 970.1"/>
<path d="M895.1 970.1L898.5 969.9"/>
<path d="M898.5 969.9L901.9 969.7"/>
<path d="M901.9 969.7L905.3 969.5"/>
<path d="M905.3 969.5L908.7 969.3"/>
<path d="M908.7 969.3L912.1 969.1"/>
<path d="M912.1 969.1L915.5 968.9"/>
<path d="M915.5 968.9L918.9 968.7"/>
<path d="M918.9 968.7L922.3 968.5"/>
<path d="M922.3 968.5L925.7 968.3"/>
<path d="M925.7 968.3L929.1 968.1"/>
<path d="M929.1 968.1L932.6 967.9"/>
<path d="M932.6 967.9L936.0 967.7"/>
<path d="M936.0 967.7L939.4 967.5"/>
<path d="M939.4 967.5L942.8 967.3"/>
<path d="M942.8 967.3L946.2 967.1"/>
<path d="M946.2 967.1L949.6 966.9"/>
<path d="M949.6 966.9L953.0 966.7"/>
<path d="M953.0 966.7L956.4 966.6"/>
<path d="M956.4 966.6L959.8 966.4"/>
<path d="M959.8 966.4L963.2 966.2"/>
<path d="M963.2 966.2L966.6 966.0"/>
<path d="M966.6 966.0L970.0 965.9"/>
<path d="M970.0 965.9L973.4 965.7"/>
<path d="M973.4 965.7L976.8 965.5"/>
<path d="M976.8 965.5L980.2 965.3"/>
<path d="M980.2 965.3L983.6 965.1"/>
<path d="M983.6 965.1L987.0 965.0"/>
<path d="M987.0 965.0L990.4 964.8"/>
<path d="M990.4 964.8L993.8 964.6"/>
<path d="M993.8 964.6L997.2 964.4"/>
<path d="M997.2 964.4L1000.6 964.2"/>
<path d="M1000.6 964.2L1004.0 964.1"/>
<path d="M1004.0 964.1L1007.4 963.9"/>
<path d="M1007.4 963.9L1010.8 963.7"/>
<path d="M1010.8 963.7L1014.2 963.5"/>
<path d="M1014.2 963.5L1017.7 963.4"/>
<path d="M1017.7 963.4L1021.1 963.2"/>
<path d="M1021.1 963.2L1024.5 963.0"/>
<path d="M1024.5 963.0L1027.9 962.8"/>
<path d="M1027.9 962.8L1031.3 962.7"/>
<path d="M1031.3 962.7L1034.7 962.5"/>
<path d="M1034.7 962.5L1038.1 962.3"/>
<path d="M1038.1 962.3L1041.5 962.2"/>
<path d="M1041.5 962.2L1044.9 962.0"/>
<path d="M1044.9 962.0L1048.3 961.8"/>
<path d="M1048.3 961.8L1051.7 961.7"/>
<path d="M1051.7 961.7L1055.1 961.5"/>
<path d="M1055.1 961.5L1058.5 961.3"/>
<path d="M1058.5 961.3L1061.9 961.2"/>
<path d="M1061.9 961.2L1065.3 961.0"/>
<path d="M1065.3 961.0L1068.7 960.9"/>
<path d="M1068.7 960.9L1072.1 960.7"/>
<path d="M1072.1 960.7L1075.5 960.5"/>
<path d="M1075.5 960.5L1078.9 960.4"/>
<path d="M1078.9 960.4L1082.3 960.2"/>
<path d="M1082.3 960.2L1085.7 960.0"/>
<path d="M1085.7 960.0L1089.1 959.9"/>
<path d="M1089.1 959.9L1092.5 959.7"/>
<path d="M1092.5 959.7L1095.9 959.6"/>
<path d="M1095.9 959.6L1099.3 959.4"/>
<path d="M1099.3 959.4L1102.7 959.2"/>
<path d="M1102.7 959.2L1106.2 959.1"/>
<path d="M1106.2 959.1L1109.6 958.9"/>
<path d="M1109.6 958.9L1113.0 958.8"/>
<path d="M1113.0 958.8L1116.4 958.7"/>
<path d="M1116.4 958.7L1119.8 958.5"/>
<path d="M1119.8 958.5L1123.2 958.4"/>
<path d="M1123.2 958.4L1126.6 958.2"/>
<path d="M1126.6 958.2L1130.0 958.1"/>
<path d="M1130.0 958.1L1133.4 958.0"/>
<path d="M1133.4 958.0L1136.8 957.8"/>
<path d="M1136.8 957.8L1140.2 957.7"/>
<path d="M1140.2 957.7L1143.6 957.6"/>
<path d="M1143.6 957.6L1147.0 957.5"/>
<path d="M1147.0 957.5L1150.4 957.4"/>
<path d="M1150.4 957.4L1153.8 957.2"/>
<path d="M1153.8 957.2L1157.2 957.1"/>
<path d="M1157.2 957.1L1160.6 957.0"/>
<path d="M1160.6 957.0L1164.0 956.9"/>
<path d="M1164.0 956.9L1167.4 956.7"/>
<path d="M1167.4 956.7L1170.8 956.6"/>
<path d="M1170.8 956.6L1174.2 956.5"/>
<path d="M1174.2 956.5L1177.6 956.4"/>
<path d="M1177.6 956.4L1181.0 956.3"/>
<path d="M1181.0 956.3L1184.4 956.2"/>
<path d="M1184.4 956.2L1187.8 956.1"/>
<path d="M1187.8 956.1L1191.3 956.1"/>
<path d="M1191.3 956.1L1194.7 956.0"/>
<path d="M1194.7 956.0L1198.1 956.0"/>
<path d="M1198.1 956.0L1201.5 956.0"/>
<path d="M1201.5 956.0L1204.9 956.1"/>
<path d="M1204.9 956.1L1208.3 956.2"/>
<path d="M1208.3 956.2L1211.7 956.4"/>
<path d="M1211.7 956.4L1215.1 956.6"/>
<path d="M1215.1 956.6L1218.5 956.8"/>
<path d="M1218.5 956.8L1221.9 957.1"/>
<path d="M1221.9 957.1L1225.3 957.5"/>
<path d="M1225.3 957.5L1228.7 957.9"/>
<path d="M1228.7 957.9L1232.1 958.2"/>
<path d="M1232.1 958.2L1235.5 958.7"/>
<path d="M1235.5 958.7L1238.9 959.1"/>
<path d="M1238.9 959.1L1242.3 959.5"/>
<path d="M1242.3 959.5L1245.7 960.0"/>
<path d="M1245.7 960.0L1249.1 960.5"/>
<path d="M1249.1 960.5L1252.5 961.2"/>
<path d="M1252.5 961.2L1255.9 961.9"/>
<path d="M1255.9 961.9L1259.3 962.7"/>
<path d="M1259.3 962.7L1262.7 963.6"/>
<path d="M1262.7 963.6L1266.1 964.6"/>
<path d="M1266.1 964.6L1269.5 965.6"/>
<path d="M1269.5 965.6L1272.9 966.7"/>
<path d="M1272.9 966.7L1276.3 967.8"/>
<path d="M1276.3 967.8L1279.8 969.0"/>
<path d="M1279.8 969.0L1283.2 970.3"/>
<path d="M1283.2 970.3L1286.6 971.6"/>
<path d="M1286.6 971.6L1290.0 972.9"/>
<path d="M1290.0 972.9L1293.4 974.3"/>
<path d="M1293.4 974.3L1296.8 975.8"/>
<path d="M1296.8 975.8L1300.2 977.5"/>
<path d="M1300.2 977.5L1303.6 979.3"/>
<path d="M1303.6 979.3L1307.0 981.2"/>
<path d="M1307.0 981.2L1310.4 983.2"/>
<path d="M1310.4 983.2L1313.8 985.4"/>
<path d="M1313.8 985.4L1317.2 987.6"/>
<path d="M1317.2 987.6L1320.6 990.0"/>
<path d="M1320.6 990.0L1324.0 992.4"/>
<path d="M1324.0 992.4L1327.4 995.0"/>
<path d="M1327.4 995.0L1330.8 997.6"/>
<path d="M1330.8 997.6L1334.2 1000.3"/>
<path d="M1334.2 1000.3L1337.6 1003.1"/>
<path d="M1337.6 1003.1L1341.0 1005.9"/>
<path d="M1341.0 1005.9L1344.4 1008.9"/>
<path d="M1344.4 1008.9L1347.8 1012.2"/>
<path d="M1347.8 1012.2L1351.2 1015.8"/>
<path d="M1351.2 1015.8L1354.6 1019.6"/>
<path d="M1354.6 1019.6L1358.0 1023.5"/>
<path d="M1358.0 1023.5L1361.4 1027.7"/>
<path d="M1361.4 1027.7L1364.9 1031.9"/>
<path d="M1364.9 1031.9L1368.3 1036.2"/>
<path d="M1368.3 1036.2L1371.7 1040.6"/>
<path d="M1371.7 1040.6L1375.1 1045.0"/>
<path d="M1375.1 1045.0L1378.5 1049.6"/>
<path d="M1378.5 1049.6L1381.9 1054.3"/>
<path d="M1381.9 1054.3L1385.3 1059.2"/>
<path d="M1385.3 1059.2L1388.7 1064.2"/>
<path d="M1388.7 1064.2L1392.1 1069.4"/>
<path d="M1392.1 1069.4L1395.5 1074.7"/>
<path d="M1395.5 1074.7L1398.9 1080.3"/>
<path d="M1398.9 1080.3L1402.3 1085.9"/>
<path d="M1402.3 1085.9L1405.7 1091.8"/>
<path d="M1405.7 1091.8L1409.1 1098.1"/>
<path d="M1409.1 1098.1L1412.5 1104.6"/>
<path d="M1412.5 1104.6L1415.9 1111.5"/>
<path d="M1415.9 1111.5L1419.3 1118.6"/>
<path d="M1419.3 1118.6L1422.7 1125.9"/>
<path d="M1422.7 1125.9L1426.1 1133.3"/>
<path d="M1426.1 1133.3L1429.5 1141.0"/>
<path d="M1429.5 1141.0L1432.9 1149.0"/>
<path d="M1432.9 1149.0L1436.3 1157.4"/>
<path d="M1436.3 1157.4L1439.7 1166.3"/>
<path d="M1439.7 1166.3L1443.1 1175.5"/>
<path d="M1443.1 1175.5L1446.5 1185.4"/>
<path d="M1446.5 1185.4L1449.9 1196.0"/>
<path d="M1449.9 1196.0L1453.4 1207.4"/>
<path d="M1453.4 1207.4L1456.8 1219.7"/>
<path d="M1456.8 1219.7L1460.2 1232.9"/>
<path d="M1460.2 1232.9L1463.6 1247.0"/>
<path d="M1463.6 1247.0L1467.0 1262.0"/>
<path d="M1467.0 1262.0L1470.4 1278.1"/>
<path d="M1470.4 1278.1L1473.8 1295.4"/>
<path d="M1473.8 1295.4L1477.2 1313.7"/>
<path d="M1477.2 1313.7L1480.6 1333.6"/>
<path d="M1480.6 1333.6L1484.0 1355.9"/>
<path d="M1484.0 1355.9L1487.4 1378.5"/>
<path d="M1487.4 1378.5L1490.8 1400.9"/>
<path d="M1490.8 1400.9L1494.2 1423.4"/>
<path d="M1499.3 1420.6L1502.7 1397.1"/>
<path d="M1502.7 1397.1L1506.1 1373.9"/>
<path d="M1506.1 1373.9L1509.5 1350.0"/>
<path d="M1509.5 1350.0L1512.9 1327.5"/>
<path d="M1512.9 1327.5L1516.3 1309.3"/>
<path d="M1516.3 1309.3L1519.7 1293.6"/>
<path d="M1519.7 1293.6L1523.1 1280.1"/>
<path d="M1523.1 1280.1L1526.5 1267.8"/>
<path d="M1526.5 1267.8L1529.9 1256.9"/>
<path d="M1529.9 1256.9L1533.3 1248.0"/>
<path d="M1533.3 1248.0L1536.7 1240.9"/>
<path d="M1536.7 1240.9L1540.1 1233.0"/>
<path d="M1540.1 1233.0L1543.5 1224.8"/>
<path d="M1543.5 1224.8L1546.9 1216.8"/>
<path d="M1546.9 1216.8L1550.3 1209.7"/>
<path d="M1550.3 1209.7L1553.7 1203.8"/>
<path d="M1553.7 1203.8L1557.0 1198.5"/>
<path d="M1557.0 1198.5L1560.4 1193.7"/>
<path d="M1560.4 1193.7L1563.8 1189.2"/>
<path d="M1563.8 1189.2L1567.2 1184.9"/>
<path d="M1567.2 1184.9L1570.6 1180.9"/>
<path d="M1570.6 1180.9L1574.0 1177.0"/>
<path d="M1574.0 1177.0L1577.4 1173.2"/>
<path d="M1577.4 1173.2L1580.8 1169.4"/>
<path d="M1580.8 1169.4L1584.2 1165.7"/>
<path d="M1584.2 1165.7L1587.6 1162.2"/>
<path d="M1587.6 1162.2L1591.0 1158.8"/>
<path d="M1591.0 1158.8L1594.4 1155.5"/>
<path d="M1594.4 1155.5L1597.8 1152.4"/>
<path d="M1597.8 1152.4L1601.2 1149.5"/>
<path d="M1601.2 1149.5L1604.6 1146.7"/>
<path d="M1604.6 1146.7L1608.0 1144.1"/>
<path d="M1608.0 1144.1L1611.4 1141.7"/>
<path d="M1611.4 1141.7L1614.8 1139.3"/>
<path d="M1614.8 1139.3L1618.2 1137.1"/>
<path d="M1618.2 1137.1L1621.6 1134.9"/>
<path d="M1621.6 1134.9L1625.0 1132.8"/>
<path d="M1625.0 1132.8L1628.4 1130.8"/>
<path d="M1628.4 1130.8L1631.8 1128.9"/>
<path d="M1631.8 1128.9L1635.2 1127.0"/>
<path d="M1635.2 1127.0L1638.6 1125.2"/>
<path d="M1638.6 1125.2L1642.0 1123.4"/>
<path d="M1642.0 1123.4L1645.4 1121.6"/>
<path d="M1645.4 1121.6L1648.8 1119.9"/>
<path d="M1648.8 1119.9L1652.2 1118.2"/>
<path d="M1652.2 1118.2L1655.6 1116.6"/>
<path d="M1655.6 1116.6L1659.0 1115.0"/>
<path d="M1659.0 1115.0L1662.4 1113.4"/>
<path d="M1662.4 1113.4L1665.8 1111.9"/>
<path d="M1665.8 1111.9L1669.2 1110.5"/>
<path d="M1669.2 1110.5L1672.5 1109.1"/>
<path d="M1672.5 1109.1L1675.9 1107.7"/>
<path d="M1675.9 1107.7L1679.3 1106.5"/>
<path d="M1679.3 1106.5L1682.7 1105.2"/>
<path d="M1682.7 1105.2L1686.1 1104.1"/>
<path d="M1686.1 1104.1L1689.5 1103.0"/>
<path d="M1689.5 1103.0L1692.9 1101.9"/>
<path d="M1692.9 1101.9L1696.3 1100.8"/>
<path d="M1696.3 1100.8L1699.7 1099.8"/>
<path d="M1699.7 1099.8L1703.1 1098.9"/>
<path d="M1703.1 1098.9L1706.5 1097.9"/>
<path d="M1706.5 1097.9L1709.9 1097.0"/>
<path d="M1709.9 1097.0L1713.3 1096.1"/>
<path d="M1713.3 1096.1L1716.7 1095.3"/>
<path d="M1716.7 1095.3L1720.1 1094.4"/>
<path d="M1720.1 1094.4L1723.5 1093.6"/>
<path d="M1723.5 1093.6L1726.9 1092.7"/>
<path d="M1726.9 1092.7L1730.3 1091.9"/>
<path d="M1730.3 1091.9L1733.7 1091.1"/>
<path d="M1733.7 1091.1L1737.1 1090.3"/>
<path d="M1737.1 1090.3L1740.5 1089.5"/>
<path d="M1740.5 1089.5L1743.9 1088.7"/>
<path d="M1743.9 1088.7L1747.3 1087.9"/>
<path d="M1747.3 1087.9L1750.7 1087.2"/>
<path d="M1750.7 1087.2L1754.1 1086.4"/>
<path d="M1754.1 1086.4L1757.5 1085.7"/>
<path d="M1757.5 1085.7L1760.9 1085.0"/>
<path d="M1760.9 1085.0L1764.3 1084.3"/>
<path d="M1764.3 1084.3L1767.7 1083.7"/>
<path d="M1767.7 1083.7L1771.1 1083.0"/>
<path d="M1771.1 1083.0L1774.5 1082.4"/>
<path d="M1774.5 1082.4L1777.9 1081.9"/>
<path d="M1777.9 1081.9L1781.3 1081.3"/>
<path d="M1781.3 1081.3L1784.7 1080.8"/>
<path d="M1784.7 1080.8L1788.0 1080.3"/>
<path d="M1788.0 1080.3L1791.4 1079.8"/>
<path d="M1791.4 1079.8L1794.8 1079.4"/>
<path d="M1794.8 1079.4L1798.2 1078.9"/>
<path d="M1798.2 1078.9L1801.6 1078.5"/>
<path d="M1801.6 1078.5L1805.0 1078.1"/>
<path d="M1805.0 1078.1L1808.4 1077.6"/>
<path d="M1808.4 1077.6L1811.8 1077.2"/>
<path d="M1811.8 1077.2L1815.2 1076.9"/>
<path d="M1815.2 1076.9L1818.6 1076.5"/>
<path d="M1818.6 1076.5L1822.0 1076.1"/>
<path d="M1822.0 1076.1L1825.4 1075.8"/>
<path d="M1825.4 1075.8L1828.8 1075.4"/>
<path d="M1828.8 1075.4L1832.2 1075.1"/>
<path d="M1832.2 1075.1L1835.6 1074.7"/>
<path d="M1835.6 1074.7L1839.0 1074.4"/>
<path d="M1839.0 1074.4L1842.4 1074.1"/>
<path d="M1842.4 1074.1L1845.8 1073.7"/>
<path d="M1845.8 1073.7L1849.2 1073.4"/>
<path d="M1849.2 1073.4L1852.6 1073.1"/>
<path d="M1852.6 1073.1L1856.0 1072.8"/>
<path d="M1856.0 1072.8L1859.4 1072.4"/>
<path d="M1859.4 1072.4L1862.8 1072.1"/>
<path d="M1862.8 1072.1L1866.2 1071.8"/>
<path d="M1866.2 1071.8L1869.6 1071.5"/>
<path d="M1869.6 1071.5L1873.0 1071.2"/>
<path d="M1873.0 1071.2L1876.4 1070.9"/>
<path d="M1876.4 1070.9L1879.8 1070.7"/>
<path d="M1879.8 1070.7L1883.2 1070.4"/>
<path d="M1883.2 1070.4L1886.6 1070.1"/>
<path d="M1886.6 1070.1L1890.0 1069.9"/>
<path d="M1890.0 1069.9L1893.4 1069.6"/>
<path d="M1893.4 1069.6L1896.8 1069.4"/>
<path d="M1896.8 1069.4L1900.2 1069.1"/>
<path d="M1900.2 1069.1L1903.6 1068.9"/>
<path d="M1903.6 1068.9L1906.9 1068.7"/>
<path d="M1906.9 1068.7L1910.3 1068.5"/>
<path d="M1910.3 1068.5L1913.7 1068.3"/>
<path d="M1913.7 1068.3L1917.1 1068.1"/>
<path d="M1917.1 1068.1L1920.5 1067.9"/>
<path d="M1920.5 1067.9L1923.9 1067.7"/>
<path d="M1923.9 1067.7L1927.3 1067.6"/>
<path d="M1927.3 1067.6L1930.7 1067.4"/>
<path d="M1930.7 1067.4L1934.1 1067.3"/>
<path d="M1934.1 1067.3L1937.5 1067.1"/>
<path d="M1937.5 1067.1L1940.9 1067.0"/>
<path d="M1940.9 1067.0L1944.3 1066.8"/>
<path d="M1944.3 1066.8L1947.7 1066.7"/>
<path d="M1947.7 1066.7L1951.1 1066.5"/>
<path d="M1951.1 1066.5L1954.5 1066.4"/>
<path d="M1954.5 1066.4L1957.9 1066.2"/>
<path d="M1957.9 1066.2L1961.3 1066.1"/>
<path d="M1961.3 1066.1L1964.7 1065.9"/>
<path d="M1964.7 1065.9L1968.1 1065.8"/>
<path d="M1968.1 1065.8L1971.5 1065.7"/>
<path d="M1971.5 1065.7L1974.9 1065.6"/>
<path d="M1974.9 1065.6L1978.3 1065.4"/>
<path d="M1978.3 1065.4L1981.7 1065.3"/>
<path d="M1981.7 1065.3L1985.1 1065.2"/>
<path d="M1985.1 1065.2L1988.5 1065.1"/>
<path d="M1988.5 1065.1L1991.9 1065.0"/>
<path d="M1991.9 1065.0L1995.3 1064.9"/>
<path d="M1995.3 1064.9L1998.7 1064.9"/>
<path d="M1998.7 1064.9L2002.1 1064.8"/>
<path d="M2002.1 1064.8L2005.5 1064.7"/>
<path d="M2005.5 1064.7L2008.9 1064.7"/>
<path d="M2008.9 1064.7L2012.3 1064.7"/>
<path d="M2012.3 1064.7L2015.7 1064.6"/>
<path d="M2015.7 1064.6L2019.1 1064.6"/>
<path d="M2019.1 1064.6L2022.4 1064.6"/>
<path d="M2022.4 1064.6L2025.8 1064.6"/>
<path d="M2025.8 1064.6L2029.2 1064.6"/>
<path d="M2029.2 1064.6L2032.6 1064.6"/>
<path d="M2032.6 1064.6L2036.0 1064.6"/>
<path d="M2036.0 1064.6L2039.4 1064.6"/>
<path d="M2039.4 1064.6L2042.8 1064.6"/>
<path d="M2042.8 1064.6L2046.2 1064.6"/>
<path d="M2046.2 1064.6L2049.6 1064.6"/>
<path d="M2049.6 1064.6L2053.0 1064.6"/>
<path d="M2053.0 1064.6L2056.4 1064.6"/>
<path d="M2056.4 1064.6L2059.8 1064.6"/>
<path d="M2059.8 1064.6L2063.2 1064.6"/>
<path d="M2063.2 1064.6L2066.6 1064.6"/>
<path d="M2066.6 1064.6L2070.0 1064.6"/>
<path d="M2070.0 1064.6L2073.4 1064.6"/>
<path d="M2073.4 1064.6L2076.8 1064.6"/>
<path d="M2076.8 1064.6L2080.2 1064.6"/>
<path d="M2080.2 1064.6L2083.6 1064.6"/>
<path d="M2083.6 1064.6L2087.0 1064.6"/>
<path d="M2087.0 1064.6L2090.4 1064.6"/>
<path d="M2090.4 1064.6L2093.8 1064.6"/>
<path d="M2093.8 1064.6L2097.2 1064.6"/>
<path d="M2097.2 1064.6L2100.6 1064.6"/>
<path d="M2100.6 1064.6L2104.0 1064.6"/>
<path d="M2104.0 1064.6L2107.4 1064.6"/>
<path d="M2107.4 1064.6L2110.8 1064.6"/>
<path d="M2110.8 1064.6L2114.2 1064.6"/>
<path d="M2114.2 1064.6L2117.6 1064.6"/>
<path d="M2117.6 1064.6L2121.0 1064.6"/>
<path d="M2121.0 1064.6L2124.4 1064.6"/>
<path d="M2124.4 1064.6L2127.8 1064.6"/>
<path d="M2127.8 1064.6L2131.2 1064.7"/>
<path d="M2131.2 1064.7L2134.6 1064.8"/>
<path d="M2134.6 1064.8L2137.9 1064.8"/>
<path d="M2137.9 1064.8L2141.3 1064.9"/>
<path d="M2141.3 1064.9L2144.7 1065.1"/>
<path d="M2144.7 1065.1L2148.1 1065.2"/>
<path d="M2148.1 1065.2L2151.5 1065.3"/>
<path d="M2151.5 1065.3L2154.9 1065.5"/>
<path d="M2154.9 1065.5L2158.3 1065.7"/>
<path d="M2158.3 1065.7L2161.7 1065.8"/>
<path d="M2161.7 1065.8L2165.1 1066.0"/>
<path d="M2165.1 1066.0L2168.5 1066.2"/>
<path d="M2168.5 1066.2L2171.9 1066.4"/>
<path d="M2171.9 1066.4L2175.3 1066.7"/>
<path d="M2175.3 1066.7L2178.7 1066.9"/>
<path d="M2178.7 1066.9L2182.1 1067.1"/>
<path d="M2182.1 1067.1L2185.5 1067.4"/>
<path d="M2185.5 1067.4L2188.9 1067.6"/>
<path d="M2188.9 1067.6L2192.3 1067.8"/>
<path d="M2192.3 1067.8L2195.7 1068.1"/>
<path d="M2195.7 1068.1L2199.1 1068.4"/>
<path d="M2199.1 1068.4L2202.5 1068.6"/>
<path d="M2202.5 1068.6L2205.9 1068.9"/>
<path d="M2205.9 1068.9L2209.3 1069.2"/>
<path d="M2209.3 1069.2L2212.7 1069.4"/>
<path d="M2212.7 1069.4L2216.1 1069.7"/>
<path d="M2216.1 1069.7L2219.5 1070.0"/>
<path d="M2219.5 1070.0L2222.9 1070.3"/>
<path d="M2222.9 1070.3L2226.3 1070.6"/>
<path d="M2226.3 1070.6L2229.7 1070.9"/>
<path d="M2229.7 1070.9L2233.1 1071.3"/>
<path d="M2233.1 1071.3L2236.5 1071.6"/>
<path d="M2236.5 1071.6L2239.9 1072.0"/>
<path d="M2239.9 1072.0L2243.3 1072.5"/>
<path d="M2243.3 1072.5L2246.7 1072.9"/>
<path d="M2246.7 1072.9L2250.1 1073.3"/>
<path d="M2250.1 1073.3L2253.4 1073.8"/>
<path d="M2253.4 1073.8L2256.8 1074.3"/>
<path d="M2256.8 1074.3L2260.2 1074.8"/>
<path d="M2260.2 1074.8L2263.6 1075.3"/>
<path d="M2263.6 1075.3L2267.0 1075.8"/>
<path d="M2267.0 1075.8L2270.4 1076.4"/>
<path d="M2270.4 1076.4L2273.8 1076.9"/>
<path d="M2273.8 1076.9L2277.2 1077.5"/>
<path d="M2277.2 1077.5L2280.6 1078.1"/>
<path d="M2280.6 1078.1L2284.0 1078.6"/>
<path d="M2284.0 1078.6L2287.4 1079.2"/>
<path d="M2287.4 1079.2L2290.8 1079.8"/>
<path d="M2290.8 1079.8L2294.2 1080.5"/>
<path d="M2294.2 1080.5L2297.6 1081.1"/>
<path d="M2297.6 1081.1L2301.0 1081.7"/>
<path d="M2301.0 1081.7L2304.4 1082.4"/>
<path d="M2304.4 1082.4L2307.8 1083.0"/>
</g>
<path d="M1495.2 1421.5L1501.2 1426.6" stroke="#0000ff" stroke-width="3.6" fill="none"/>
<circle cx="270.1" cy="978.0" r="14.1" fill="#fff" stroke="#0000ff" stroke-width="2.1"/>
<circle cx="367.4" cy="977.4" r="14.1" fill="#fff" stroke="#0000ff" stroke-width="2.1"/>
<circle cx="464.8" cy="976.5" r="14.1" fill="#fff" stroke="#0000ff" stroke-width="2.1"/>
<circle cx="562.1" cy="975.6" r="14.1" fill="#fff" stroke="#0000ff" stroke-width="2.1"/>
<circle cx="659.4" cy="974.9" r="14.1" fill="#fff" stroke="#0000ff" stroke-width="2.1"/>
<circle cx="756.8" cy="973.8" r="14.1" fill="#fff" stroke="#0000ff" stroke-width="2.1"/>
<circle cx="854.1" cy="971.9" r="14.1" fill="#fff" stroke="#0000ff" stroke-width="2.1"/>
<circle cx="951.4" cy="966.8" r="14.1" fill="#fff" stroke="#0000ff" stroke-width="2.1"/>
<circle cx="1048.7" cy="961.8" r="14.1" fill="#fff" stroke="#0000ff" stroke-width="2.1"/>
<circle cx="1146.1" cy="957.5" r="14.1" fill="#fff" stroke="#0000ff" stroke-width="2.1"/>
<circle cx="1243.4" cy="959.7" r="14.1" fill="#fff" stroke="#0000ff" stroke-width="2.1"/>
<circle cx="1340.7" cy="1005.7" r="14.1" fill="#fff" stroke="#0000ff" stroke-width="2.1"/>
<circle cx="1438.1" cy="1161.9" r="14.1" fill="#fff" stroke="#0000ff" stroke-width="2.1"/>
<circle cx="1535.4" cy="1243.6" r="14.1" fill="#fff" stroke="#0000ff" stroke-width="2.1"/>
<circle cx="1633.2" cy="1127.8" r="14.1" fill="#fff" stroke="#0000ff" stroke-width="2.1"/>
<circle cx="1730.0" cy="1092.0" r="14.1" fill="#fff" stroke="#0000ff" stroke-width="2.1"/>
<circle cx="1827.4" cy="1075.6" r="14.1" fill="#fff" stroke="#0000ff" stroke-width="2.1"/>
<circle cx="1924.7" cy="1067.7" r="14.1" fill="#fff" stroke="#0000ff" stroke-width="2.1"/>
<circle cx="2022.0" cy="1064.6" r="14.1" fill="#fff" stroke="#0000ff" stroke-width="2.1"/>
<circle cx="2119.4" cy="1064.6" r="14.1" fill="#fff" stroke="#0000ff" stroke-width="2.1"/>
<circle cx="2216.7" cy="1069.7" r="14.1" fill="#fff" stroke="#0000ff" stroke-width="2.1"/>
<circle cx="2314.0" cy="1082.9" r="14.1" fill="#fff" stroke="#0000ff" stroke-width="2.1"/>
<g fill="none" stroke="#ff0000" stroke-width="14.5">
<path d="M279.0 978.0L282.4 978.0"/>
<path d="M282.4 978.0L285.8 978.0"/>
<path d="M285.8 978.0L289.2 978.0"/>
<path d="M289.2 978.0L292.6 978.0"/>
<path d="M292.6 978.0L296.0 978.0"/>
<path d="M296.0 978.0L299.4 977.9"/>
<path d="M299.4 977.9L302.8 977.9"/>
<path d="M302.8 977.9L306.2 977.9"/>
<path d="M306.2 977.9L309.6 977.9"/>
<path d="M309.6 977.9L313.0 977.9"/>
<path d="M313.0 977.9L316.4 977.9"/>
<path d="M316.4 977.9L319.8 977.9"/>
<path d="M319.8 977.9L323.2 977.9"/>
<path d="M323.2 977.9L326.6 977.9"/>
<path d="M326.6 977.9L330.0 977.8"/>
<path d="M330.0 977.8L333.4 977.8"/>
<path d="M333.4 977.8L336.8 977.8"/>
<path d="M336.8 977.8L340.2 977.8"/>
<path d="M340.2 977.8L343.6 977.8"/>
<path d="M343.6 977.8L347.0 977.8"/>
<path d="M347.0 977.8L350.4 977.8"/>
<path d="M350.4 977.8L353.8 977.7"/>
<path d="M353.8 977.7L357.2 977.7"/>
<path d="M357.2 977.7L360.6 977.7"/>
<path d="M360.6 977.7L364.0 977.7"/>
<path d="M364.0 977.7L367.4 977.7"/>
<path d="M367.4 977.7L370.8 977.7"/>
<path d="M370.8 977.7L374.2 977.6"/>
<path d="M374.2 977.6L377.6 977.6"/>
<path d="M377.6 977.6L381.0 977.6"/>
<path d="M381.0 977.6L384.4 977.6"/>
<path d="M384.4 977.6L387.8 977.6"/>
<path d="M387.8 977.6L391.2 977.5"/>
<path d="M391.2 977.5L394.6 977.5"/>
<path d="M394.6 977.5L398.0 977.5"/>
<path d="M398.0 977.5L401.4 977.5"/>
<path d="M401.4 977.5L404.8 977.5"/>
<path d="M404.8 977.5L408.2 977.4"/>
<path d="M408.2 977.4L411.6 977.4"/>
<path d="M411.6 977.4L415.0 977.4"/>
<path d="M415.0 977.4L418.4 977.4"/>
<path d="M418.4 977.4L421.8 977.4"/>
<path d="M421.8 977.4L425.2 977.3"/>
<path d="M425.2 977.3L428.6 977.3"/>
<path d="M428.6 977.3L432.0 977.3"/>
<path d="M432.0 977.3L435.4 977.3"/>
<path d="M435.4 977.3L438.8 977.3"/>
<path d="M438.8 977.3L442.2 977.2"/>
<path d="M442.2 977.2L445.6 977.2"/>
<path d="M445.6 977.2L449.0 977.2"/>
<path d="M449.0 977.2L452.4 977.2"/>
<path d="M452.4 977.2L455.8 977.1"/>
<path d="M455.8 977.1L459.2 977.1"/>
<path d="M459.2 977.1L462.6 977.1"/>
<path d="M462.6 977.1L466.0 977.1"/>
<path d="M466.0 977.1L469.4 977.0"/>
<path d="M469.4 977.0L472.8 977.0"/>
<path d="M472.8 977.0L476.2 977.0"/>
<path d="M476.2 977.0L479.6 976.9"/>
<path d="M479.6 976.9L483.0 976.9"/>
<path d="M483.0 976.9L486.5 976.9"/>
<path d="M486.5 976.9L489.9 976.8"/>
<path d="M489.9 976.8L493.3 976.8"/>
<path d="M493.3 976.8L496.7 976.8"/>
<path d="M496.7 976.8L500.1 976.7"/>
<path d="M500.1 976.7L503.5 976.7"/>
<path d="M503.5 976.7L506.9 976.7"/>
<path d="M506.9 976.7L510.3 976.6"/>
<path d="M510.3 976.6L513.7 976.6"/>
<path d="M513.7 976.6L517.1 976.6"/>
<path d="M517.1 976.6L520.5 976.5"/>
<path d="M520.5 976.5L523.9 976.5"/>
<path d="M523.9 976.5L527.3 976.5"/>
<path d="M527.3 976.5L530.7 976.5"/>
<path d="M530.7 976.5L534.1 976.4"/>
<path d="M534.1 976.4L537.5 976.4"/>
<path d="M537.5 976.4L540.9 976.4"/>
<path d="M540.9 976.4L544.3 976.3"/>
<path d="M544.3 976.3L547.7 976.3"/>
<path d="M547.7 976.3L551.1 976.3"/>
<path d="M551.1 976.3L554.5 976.3"/>
<path d="M554.5 976.3L557.9 976.2"/>
<path d="M557.9 976.2L561.3 976.2"/>
<path d="M561.3 976.2L564.7 976.2"/>
<path d="M564.7 976.2L568.1 976.1"/>
<path d="M568.1 976.1L571.5 976.1"/>
<path d="M571.5 976.1L574.9 976.1"/>
<path d="M574.9 976.1L578.3 976.1"/>
<path d="M578.3 976.1L581.7 976.0"/>
<path d="M581.7 976.0L585.1 976.0"/>
<path d="M585.1 976.0L588.5 976.0"/>
<path d="M588.5 976.0L591.9 975.9"/>
<path d="M591.9 975.9L595.3 975.9"/>
<path d="M595.3 975.9L598.7 975.9"/>
<path d="M598.7 975.9L602.1 975.9"/>
<path d="M602.1 975.9L605.5 975.8"/>
<path d="M605.5 975.8L608.9 975.8"/>
<path d="M608.9 975.8L612.3 975.8"/>
<path d="M612.3 975.8L615.7 975.7"/>
<path d="M615.7 975.7L619.1 975.7"/>
<path d="M619.1 975.7L622.5 975.7"/>
<path d="M622.5 975.7L625.9 975.6"/>
<path d="M625.9 975.6L629.3 975.6"/>
<path d="M629.3 975.6L632.7 975.6"/>
<path d="M632.7 975.6L636.1 975.5"/>
<path d="M636.1 975.5L639.5 975.5"/>
<path d="M639.5 975.5L642.9 975.5"/>
<path d="M642.9 975.5L646.3 975.4"/>
<path d="M646.3 975.4L649.7 975.4"/>
<path d="M649.7 975.4L653.1 975.4"/>
<path d="M653.1 975.4L656.5 975.3"/>
<path d="M656.5 975.3L659.9 975.3"/>
<path d="M659.9 975.3L663.3 975.2"/>
<path d="M663.3 975.2L666.7 975.2"/>
<path d="M666.7 975.2L670.1 975.1"/>
<path d="M670.1 975.1L673.5 975.1"/>
<path d="M673.5 975.1L676.9 975.1"/>
<path d="M676.9 975.1L680.3 975.0"/>
<path d="M680.3 975.0L683.7 975.0"/>
<path d="M683.7 975.0L687.1 974.9"/>
<path d="M687.1 974.9L690.5 974.9"/>
<path d="M690.5 974.9L693.9 974.8"/>
<path d="M693.9 974.8L697.3 974.8"/>
<path d="M697.3 974.8L700.7 974.7"/>
<path d="M700.7 974.7L704.1 974.7"/>
<path d="M704.1 974.7L707.5 974.6"/>
<path d="M707.5 974.6L710.9 974.6"/>
<path d="M710.9 974.6L714.3 974.5"/>
<path d="M714.3 974.5L717.7 974.5"/>
<path d="M717.7 974.5L721.1 974.4"/>
<path d="M721.1 974.4L724.5 974.3"/>
<path d="M724.5 974.3L727.9 974.3"/>
<path d="M727.9 974.3L731.3 974.2"/>
<path d="M731.3 974.2L734.7 974.2"/>
<path d="M734.7 974.2L738.1 974.1"/>
<path d="M738.1 974.1L741.5 974.0"/>
<path d="M741.5 974.0L744.9 974.0"/>
<path d="M744.9 974.0L748.3 973.9"/>
<path d="M748.3 973.9L751.7 973.9"/>
<path d="M751.7 973.9L755.1 973.8"/>
<path d="M755.1 973.8L758.5 973.7"/>
<path d="M758.5 973.7L761.9 973.6"/>
<path d="M761.9 973.6L765.3 973.6"/>
<path d="M765.3 973.6L768.7 973.5"/>
<path d="M768.7 973.5L772.1 973.4"/>
<path d="M772.1 973.4L775.5 973.3"/>
<path d="M775.5 973.3L778.9 973.2"/>
<path d="M778.9 973.2L782.3 973.2"/>
<path d="M782.3 973.2L785.7 973.1"/>
<path d="M785.7 973.1L789.1 973.0"/>
<path d="M789.1 973.0L792.5 972.9"/>
<path d="M792.5 972.9L795.9 972.8"/>
<path d="M795.9 972.8L799.3 972.7"/>
<path d="M799.3 972.7L802.7 972.6"/>
<path d="M802.7 972.6L806.1 972.5"/>
<path d="M806.1 972.5L809.5 972.4"/>
<path d="M809.5 972.4L812.9 972.3"/>
<path d="M812.9 972.3L816.3 972.2"/>
<path d="M816.3 972.2L819.7 972.1"/>
<path d="M819.7 972.1L823.1 972.0"/>
<path d="M823.1 972.0L826.5 971.9"/>
<path d="M826.5 971.9L829.9 971.8"/>
<path d="M829.9 971.8L833.3 971.7"/>
<path d="M833.3 971.7L836.7 971.6"/>
<path d="M836.7 971.6L840.1 971.5"/>
<path d="M840.1 971.5L843.5 971.4"/>
<path d="M843.5 971.4L846.9 971.3"/>
<path d="M846.9 971.3L850.3 971.2"/>
<path d="M850.3 971.2L853.7 971.1"/>
<path d="M853.7 971.1L857.1 971.0"/>
<path d="M857.1 971.0L860.5 970.8"/>
<path d="M860.5 970.8L863.9 970.7"/>
<path d="M863.9 970.7L867.3 970.6"/>
<path d="M867.3 970.6L870.7 970.5"/>
<path d="M870.7 970.5L874.1 970.4"/>
<path d="M874.1 970.4L877.5 970.2"/>
<path d="M877.5 970.2L880.9 970.1"/>
<path d="M880.9 970.1L884.3 970.0"/>
<path d="M884.3 970.0L887.7 969.9"/>
<path d="M887.7 969.9L891.1 969.7"/>
<path d="M891.1 969.7L894.5 969.6"/>
<path d="M894.5 969.6L898.0 969.5"/>
<path d="M898.0 969.5L901.4 969.4"/>
<path d="M901.4 969.4L904.8 969.2"/>
<path d="M904.8 969.2L908.2 969.1"/>
<path d="M908.2 969.1L911.6 969.0"/>
<path d="M911.6 969.0L915.0 968.8"/>
<path d="M915.0 968.8L918.4 968.7"/>
<path d="M918.4 968.7L921.8 968.6"/>
<path d="M921.8 968.6L925.2 968.4"/>
<path d="M925.2 968.4L928.6 968.3"/>
<path d="M928.6 968.3L932.0 968.1"/>
<path d="M932.0 968.1L935.4 968.0"/>
<path d="M935.4 968.0L938.8 967.9"/>
<path d="M938.8 967.9L942.2 967.7"/>
<path d="M942.2 967.7L945.6 967.6"/>
<path d="M945.6 967.6L949.0 967.4"/>
<path d="M949.0 967.4L952.4 967.3"/>
<path d="M952.4 967.3L955.8 967.1"/>
<path d="M955.8 967.1L959.2 967.0"/>
<path d="M959.2 967.0L962.6 966.8"/>
<path d="M962.6 966.8L966.0 966.7"/>
<path d="M966.0 966.7L969.4 966.5"/>
<path d="M969.4 966.5L972.8 966.3"/>
<path d="M972.8 966.3L976.2 966.2"/>
<path d="M976.2 966.2L979.6 966.0"/>
<path d="M979.6 966.0L983.0 965.8"/>
<path d="M983.0 965.8L986.4 965.6"/>
<path d="M986.4 965.6L989.8 965.5"/>
<path d="M989.8 965.5L993.2 965.3"/>
<path d="M993.2 965.3L996.6 965.1"/>
<path d="M996.6 965.1L1000.0 964.9"/>
<path d="M1000.0 964.9L1003.4 964.7"/>
<path d="M1003.4 964.7L1006.8 964.5"/>
<path d="M1006.8 964.5L1010.2 964.3"/>
<path d="M1010.2 964.3L1013.6 964.1"/>
<path d="M1013.6 964.1L1017.0 964.0"/>
<path d="M1017.0 964.0L1020.4 963.8"/>
<path d="M1020.4 963.8L1023.8 963.6"/>
<path d="M1023.8 963.6L1027.2 963.4"/>
<path d="M1027.2 963.4L1030.6 963.2"/>
<path d="M1030.6 963.2L1034.0 963.0"/>
<path d="M1034.0 963.0L1037.4 962.8"/>
<path d="M1037.4 962.8L1040.8 962.6"/>
<path d="M1040.8 962.6L1044.2 962.4"/>
<path d="M1044.2 962.4L1047.6 962.3"/>
<path d="M1047.6 962.3L1051.0 962.1"/>
<path d="M1051.0 962.1L1054.4 961.9"/>
<path d="M1054.4 961.9L1057.8 961.7"/>
<path d="M1057.8 961.7L1061.2 961.5"/>
<path d="M1061.2 961.5L1064.6 961.3"/>
<path d="M1064.6 961.3L1068.0 961.2"/>
<path d="M1068.0 961.2L1071.4 961.0"/>
<path d="M1071.4 961.0L1074.8 960.8"/>
<path d="M1074.8 960.8L1078.2 960.6"/>
<path d="M1078.2 960.6L1081.6 960.3"/>
<path d="M1081.6 960.3L1085.0 960.1"/>
<path d="M1085.0 960.1L1088.4 959.9"/>
<path d="M1088.4 959.9L1091.8 959.7"/>
<path d="M1091.8 959.7L1095.2 959.5"/>
<path d="M1095.2 959.5L1098.6 959.3"/>
<path d="M1098.6 959.3L1102.0 959.1"/>
<path d="M1102.0 959.1L1105.4 958.9"/>
<path d="M1105.4 958.9L1108.8 958.7"/>
<path d="M1108.8 958.7L1112.2 958.5"/>
<path d="M1112.2 958.5L1115.6 958.3"/>
<path d="M1115.6 958.3L1119.0 958.1"/>
<path d="M1119.0 958.1L1122.4 957.9"/>
<path d="M1122.4 957.9L1125.8 957.8"/>
<path d="M1125.8 957.8L1129.2 957.6"/>
<path d="M1129.2 957.6L1132.6 957.4"/>
<path d="M1132.6 957.4L1136.0 957.3"/>
<path d="M1136.0 957.3L1139.4 957.1"/>
<path d="M1139.4 957.1L1142.8 957.0"/>
<path d="M1142.8 957.0L1146.2 956.8"/>
<path d="M1146.2 956.8L1149.6 956.7"/>
<path d="M1149.6 956.7L1153.0 956.6"/>
<path d="M1153.0 956.6L1156.4 956.5"/>
<path d="M1156.4 956.5L1159.8 956.4"/>
<path d="M1159.8 956.4L1163.2 956.3"/>
<path d="M1163.2 956.3L1166.6 956.2"/>
<path d="M1166.6 956.2L1170.0 956.2"/>
<path d="M1170.0 956.2L1173.4 956.1"/>
<path d="M1173.4 956.1L1176.8 956.0"/>
<path d="M1176.8 956.0L1180.2 955.9"/>
<path d="M1180.2 955.9L1183.6 955.9"/>
<path d="M1183.6 955.9L1187.0 955.8"/>
<path d="M1187.0 955.8L1190.4 955.7"/>
<path d="M1190.4 955.7L1193.8 955.7"/>
<path d="M1193.8 955.7L1197.2 955.6"/>
<path d="M1197.2 955.6L1200.6 955.6"/>
<path d="M1200.6 955.6L1204.0 955.6"/>
<path d="M1204.0 955.6L1207.4 955.6"/>
<path d="M1207.4 955.6L1210.8 955.6"/>
<path d="M1210.8 955.6L1214.2 955.7"/>
<path d="M1214.2 955.7L1217.6 955.7"/>
<path d="M1217.6 955.7L1221.0 955.8"/>
<path d="M1221.0 955.8L1224.4 955.9"/>
<path d="M1224.4 955.9L1227.8 956.0"/>
<path d="M1227.8 956.0L1231.2 956.1"/>
<path d="M1231.2 956.1L1234.6 956.2"/>
<path d="M1234.6 956.2L1238.0 956.4"/>
<path d="M1238.0 956.4L1241.4 956.6"/>
<path d="M1241.4 956.6L1244.8 956.7"/>
<path d="M1244.8 956.7L1248.2 956.9"/>
<path d="M1248.2 956.9L1251.6 957.1"/>
<path d="M1251.6 957.1L1255.0 957.4"/>
<path d="M1255.0 957.4L1258.4 957.8"/>
<path d="M1258.4 957.8L1261.8 958.3"/>
<path d="M1261.8 958.3L1265.2 958.8"/>
<path d="M1265.2 958.8L1268.6 959.3"/>
<path d="M1268.6 959.3L1272.0 959.9"/>
<path d="M1272.0 959.9L1275.4 960.5"/>
<path d="M1275.4 960.5L1278.8 961.1"/>
<path d="M1278.8 961.1L1282.2 961.9"/>
<path d="M1282.2 961.9L1285.6 962.6"/>
<path d="M1285.6 962.6L1289.0 963.5"/>
<path d="M1289.0 963.5L1292.4 964.3"/>
<path d="M1292.4 964.3L1295.8 965.3"/>
<path d="M1295.8 965.3L1299.2 966.3"/>
<path d="M1299.2 966.3L1302.6 967.3"/>
<path d="M1302.6 967.3L1306.0 968.4"/>
<path d="M1306.0 968.4L1309.5 969.7"/>
<path d="M1309.5 969.7L1312.9 971.2"/>
<path d="M1312.9 971.2L1316.3 972.8"/>
<path d="M1316.3 972.8L1319.7 974.5"/>
<path d="M1319.7 974.5L1323.1 976.4"/>
<path d="M1323.1 976.4L1326.5 978.4"/>
<path d="M1326.5 978.4L1329.9 980.4"/>
<path d="M1329.9 980.4L1333.3 982.6"/>
<path d="M1333.3 982.6L1336.7 984.9"/>
<path d="M1336.7 984.9L1340.1 987.2"/>
<path d="M1340.1 987.2L1343.5 989.7"/>
<path d="M1343.5 989.7L1346.9 992.5"/>
<path d="M1346.9 992.5L1350.3 995.5"/>
<path d="M1350.3 995.5L1353.7 998.7"/>
<path d="M1353.7 998.7L1357.1 1002.0"/>
<path d="M1357.1 1002.0L1360.5 1005.4"/>
<path d="M1360.5 1005.4L1363.9 1008.8"/>
<path d="M1363.9 1008.8L1367.3 1012.3"/>
<path d="M1367.3 1012.3L1370.7 1015.8"/>
<path d="M1370.7 1015.8L1374.1 1019.4"/>
<path d="M1374.1 1019.4L1377.5 1023.1"/>
<path d="M1377.5 1023.1L1380.9 1026.9"/>
<path d="M1380.9 1026.9L1384.3 1030.8"/>
<path d="M1384.3 1030.8L1387.7 1034.8"/>
<path d="M1387.7 1034.8L1391.1 1038.9"/>
<path d="M1391.1 1038.9L1394.5 1043.2"/>
<path d="M1394.5 1043.2L1397.9 1047.7"/>
<path d="M1397.9 1047.7L1401.3 1052.3"/>
<path d="M1401.3 1052.3L1404.7 1057.1"/>
<path d="M1404.7 1057.1L1408.1 1062.1"/>
<path d="M1408.1 1062.1L1411.5 1067.3"/>
<path d="M1411.5 1067.3L1414.9 1072.7"/>
<path d="M1414.9 1072.7L1418.3 1078.2"/>
<path d="M1418.3 1078.2L1421.7 1084.0"/>
<path d="M1421.7 1084.0L1425.1 1089.9"/>
<path d="M1425.1 1089.9L1428.5 1096.1"/>
<path d="M1428.5 1096.1L1431.9 1102.6"/>
<path d="M1431.9 1102.6L1435.3 1109.4"/>
<path d="M1435.3 1109.4L1438.7 1116.4"/>
<path d="M1438.7 1116.4L1442.1 1123.5"/>
<path d="M1442.1 1123.5L1445.5 1130.9"/>
<path d="M1445.5 1130.9L1448.9 1138.3"/>
<path d="M1448.9 1138.3L1452.3 1145.9"/>
<path d="M1452.3 1145.9L1455.7 1153.9"/>
<path d="M1455.7 1153.9L1459.1 1162.4"/>
<path d="M1459.1 1162.4L1462.5 1171.7"/>
<path d="M1462.5 1171.7L1465.9 1182.7"/>
<path d="M1465.9 1182.7L1469.3 1194.8"/>
<path d="M1469.3 1194.8L1472.7 1206.7"/>
<path d="M1472.7 1206.7L1476.1 1218.3"/>
<path d="M1476.1 1218.3L1479.5 1230.4"/>
<path d="M1479.5 1230.4L1482.9 1243.6"/>
<path d="M1482.9 1243.6L1486.3 1258.7"/>
<path d="M1486.3 1258.7L1489.7 1275.9"/>
<path d="M1489.7 1275.9L1493.1 1294.8"/>
<path d="M1493.1 1294.8L1496.5 1314.6"/>
<path d="M1496.5 1314.6L1499.9 1335.2"/>
<path d="M1499.9 1335.2L1503.3 1357.4"/>
<path d="M1503.3 1357.4L1506.7 1379.8"/>
<path d="M1506.7 1379.8L1510.1 1402.1"/>
<path d="M1510.1 1402.1L1513.5 1424.5"/>
<path d="M1516.8 1421.0L1520.2 1400.3"/>
<path d="M1520.2 1400.3L1523.6 1379.7"/>
<path d="M1523.6 1379.7L1527.0 1358.5"/>
<path d="M1527.0 1358.5L1530.4 1337.2"/>
<path d="M1530.4 1337.2L1533.8 1319.0"/>
<path d="M1533.8 1319.0L1537.2 1303.9"/>
<path d="M1537.2 1303.9L1540.6 1290.6"/>
<path d="M1540.6 1290.6L1544.0 1278.9"/>
<path d="M1544.0 1278.9L1547.4 1268.2"/>
<path d="M1547.4 1268.2L1550.7 1258.5"/>
<path d="M1550.7 1258.5L1554.1 1249.6"/>
<path d="M1554.1 1249.6L1557.5 1242.0"/>
<path d="M1557.5 1242.0L1560.9 1234.9"/>
<path d="M1560.9 1234.9L1564.3 1226.9"/>
<path d="M1564.3 1226.9L1567.7 1218.3"/>
<path d="M1567.7 1218.3L1571.1 1210.2"/>
<path d="M1571.1 1210.2L1574.5 1203.4"/>
<path d="M1574.5 1203.4L1577.9 1197.8"/>
<path d="M1577.9 1197.8L1581.3 1192.6"/>
<path d="M1581.3 1192.6L1584.7 1187.7"/>
<path d="M1584.7 1187.7L1588.1 1183.2"/>
<path d="M1588.1 1183.2L1591.5 1179.0"/>
<path d="M1591.5 1179.0L1594.9 1175.1"/>
<path d="M1594.9 1175.1L1598.3 1171.4"/>
<path d="M1598.3 1171.4L1601.7 1167.8"/>
<path d="M1601.7 1167.8L1605.1 1164.4"/>
<path d="M1605.1 1164.4L1608.5 1161.2"/>
<path d="M1608.5 1161.2L1611.9 1158.1"/>
<path d="M1611.9 1158.1L1615.3 1155.2"/>
<path d="M1615.3 1155.2L1618.6 1152.4"/>
<path d="M1618.6 1152.4L1622.0 1149.7"/>
<path d="M1622.0 1149.7L1625.4 1147.2"/>
<path d="M1625.4 1147.2L1628.8 1144.7"/>
<path d="M1628.8 1144.7L1632.2 1142.4"/>
<path d="M1632.2 1142.4L1635.6 1140.1"/>
<path d="M1635.6 1140.1L1639.0 1138.0"/>
<path d="M1639.0 1138.0L1642.4 1135.9"/>
<path d="M1642.4 1135.9L1645.8 1133.9"/>
<path d="M1645.8 1133.9L1649.2 1132.0"/>
<path d="M1649.2 1132.0L1652.6 1130.1"/>
<path d="M1652.6 1130.1L1656.0 1128.2"/>
<path d="M1656.0 1128.2L1659.4 1126.4"/>
<path d="M1659.4 1126.4L1662.8 1124.7"/>
<path d="M1662.8 1124.7L1666.2 1123.0"/>
<path d="M1666.2 1123.0L1669.6 1121.3"/>
<path d="M1669.6 1121.3L1673.0 1119.7"/>
<path d="M1673.0 1119.7L1676.4 1118.2"/>
<path d="M1676.4 1118.2L1679.8 1116.7"/>
<path d="M1679.8 1116.7L1683.1 1115.2"/>
<path d="M1683.1 1115.2L1686.5 1113.7"/>
<path d="M1686.5 1113.7L1689.9 1112.3"/>
<path d="M1689.9 1112.3L1693.3 1110.9"/>
<path d="M1693.3 1110.9L1696.7 1109.5"/>
<path d="M1696.7 1109.5L1700.1 1108.1"/>
<path d="M1700.1 1108.1L1703.5 1106.8"/>
<path d="M1703.5 1106.8L1706.9 1105.5"/>
<path d="M1706.9 1105.5L1710.3 1104.3"/>
<path d="M1710.3 1104.3L1713.7 1103.0"/>
<path d="M1713.7 1103.0L1717.1 1101.9"/>
<path d="M1717.1 1101.9L1720.5 1100.7"/>
<path d="M1720.5 1100.7L1723.9 1099.6"/>
<path d="M1723.9 1099.6L1727.3 1098.6"/>
<path d="M1727.3 1098.6L1730.7 1097.5"/>
<path d="M1730.7 1097.5L1734.1 1096.5"/>
<path d="M1734.1 1096.5L1737.5 1095.5"/>
<path d="M1737.5 1095.5L1740.9 1094.5"/>
<path d="M1740.9 1094.5L1744.3 1093.5"/>
<path d="M1744.3 1093.5L1747.6 1092.6"/>
<path d="M1747.6 1092.6L1751.0 1091.6"/>
<path d="M1751.0 1091.6L1754.4 1090.7"/>
<path d="M1754.4 1090.7L1757.8 1089.9"/>
<path d="M1757.8 1089.9L1761.2 1089.0"/>
<path d="M1761.2 1089.0L1764.6 1088.2"/>
<path d="M1764.6 1088.2L1768.0 1087.4"/>
<path d="M1768.0 1087.4L1771.4 1086.7"/>
<path d="M1771.4 1086.7L1774.8 1086.0"/>
<path d="M1774.8 1086.0L1778.2 1085.3"/>
<path d="M1778.2 1085.3L1781.6 1084.6"/>
<path d="M1781.6 1084.6L1785.0 1084.1"/>
<path d="M1785.0 1084.1L1788.4 1083.5"/>
<path d="M1788.4 1083.5L1791.8 1083.0"/>
<path d="M1791.8 1083.0L1795.2 1082.5"/>
<path d="M1795.2 1082.5L1798.6 1082.0"/>
<path d="M1798.6 1082.0L1802.0 1081.6"/>
<path d="M1802.0 1081.6L1805.4 1081.2"/>
<path d="M1805.4 1081.2L1808.8 1080.7"/>
<path d="M1808.8 1080.7L1812.2 1080.3"/>
<path d="M1812.2 1080.3L1815.5 1079.9"/>
<path d="M1815.5 1079.9L1818.9 1079.5"/>
<path d="M1818.9 1079.5L1822.3 1079.1"/>
<path d="M1822.3 1079.1L1825.7 1078.7"/>
<path d="M1825.7 1078.7L1829.1 1078.2"/>
<path d="M1829.1 1078.2L1832.5 1077.8"/>
<path d="M1832.5 1077.8L1835.9 1077.3"/>
<path d="M1835.9 1077.3L1839.3 1076.8"/>
<path d="M1839.3 1076.8L1842.7 1076.3"/>
<path d="M1842.7 1076.3L1846.1 1075.7"/>
<path d="M1846.1 1075.7L1849.5 1075.2"/>
<path d="M1849.5 1075.2L1852.9 1074.6"/>
<path d="M1852.9 1074.6L1856.3 1074.0"/>
<path d="M1856.3 1074.0L1859.7 1073.5"/>
<path d="M1859.7 1073.5L1863.1 1072.9"/>
<path d="M1863.1 1072.9L1866.5 1072.4"/>
<path d="M1866.5 1072.4L1869.9 1071.9"/>
<path d="M1869.9 1071.9L1873.3 1071.4"/>
<path d="M1873.3 1071.4L1876.7 1070.9"/>
<path d="M1876.7 1070.9L1880.0 1070.5"/>
<path d="M1880.0 1070.5L1883.4 1070.2"/>
<path d="M1883.4 1070.2L1886.8 1069.8"/>
<path d="M1886.8 1069.8L1890.2 1069.5"/>
<path d="M1890.2 1069.5L1893.6 1069.2"/>
<path d="M1893.6 1069.2L1897.0 1069.0"/>
<path d="M1897.0 1069.0L1900.4 1068.7"/>
<path d="M1900.4 1068.7L1903.8 1068.4"/>
<path d="M1903.8 1068.4L1907.2 1068.1"/>
<path d="M1907.2 1068.1L1910.6 1067.8"/>
<path d="M1910.6 1067.8L1914.0 1067.6"/>
<path d="M1914.0 1067.6L1917.4 1067.3"/>
<path d="M1917.4 1067.3L1920.8 1067.1"/>
<path d="M1920.8 1067.1L1924.2 1066.8"/>
<path d="M1924.2 1066.8L1927.6 1066.6"/>
<path d="M1927.6 1066.6L1931.0 1066.3"/>
<path d="M1931.0 1066.3L1934.4 1066.1"/>
<path d="M1934.4 1066.1L1937.8 1065.9"/>
<path d="M1937.8 1065.9L1941.2 1065.7"/>
<path d="M1941.2 1065.7L1944.6 1065.5"/>
<path d="M1944.6 1065.5L1947.9 1065.3"/>
<path d="M1947.9 1065.3L1951.3 1065.1"/>
<path d="M1951.3 1065.1L1954.7 1064.9"/>
<path d="M1954.7 1064.9L1958.1 1064.8"/>
<path d="M1958.1 1064.8L1961.5 1064.6"/>
<path d="M1961.5 1064.6L1964.9 1064.5"/>
<path d="M1964.9 1064.5L1968.3 1064.4"/>
<path d="M1968.3 1064.4L1971.7 1064.2"/>
<path d="M1971.7 1064.2L1975.1 1064.1"/>
<path d="M1975.1 1064.1L1978.5 1064.0"/>
<path d="M1978.5 1064.0L1981.9 1064.0"/>
<path d="M1981.9 1064.0L1985.3 1063.9"/>
<path d="M1985.3 1063.9L1988.7 1063.8"/>
<path d="M1988.7 1063.8L1992.1 1063.8"/>
<path d="M1992.1 1063.8L1995.5 1063.7"/>
<path d="M1995.5 1063.7L1998.9 1063.7"/>
<path d="M1998.9 1063.7L2002.3 1063.7"/>
<path d="M2002.3 1063.7L2005.7 1063.6"/>
<path d="M2005.7 1063.6L2009.1 1063.6"/>
<path d="M2009.1 1063.6L2012.4 1063.6"/>
<path d="M2012.4 1063.6L2015.8 1063.5"/>
<path d="M2015.8 1063.5L2019.2 1063.5"/>
<path d="M2019.2 1063.5L2022.6 1063.5"/>
<path d="M2022.6 1063.5L2026.0 1063.4"/>
<path d="M2026.0 1063.4L2029.4 1063.4"/>
<path d="M2029.4 1063.4L2032.8 1063.4"/>
<path d="M2032.8 1063.4L2036.2 1063.4"/>
<path d="M2036.2 1063.4L2039.6 1063.4"/>
<path d="M2039.6 1063.4L2043.0 1063.3"/>
<path d="M2043.0 1063.3L2046.4 1063.3"/>
<path d="M2046.4 1063.3L2049.8 1063.3"/>
<path d="M2049.8 1063.3L2053.2 1063.3"/>
<path d="M2053.2 1063.3L2056.6 1063.3"/>
<path d="M2056.6 1063.3L2060.0 1063.3"/>
<path d="M2060.0 1063.3L2063.4 1063.3"/>
<path d="M2063.4 1063.3L2066.8 1063.3"/>
<path d="M2066.8 1063.3L2070.2 1063.3"/>
<path d="M2070.2 1063.3L2073.6 1063.3"/>
<path d="M2073.6 1063.3L2077.0 1063.3"/>
<path d="M2077.0 1063.3L2080.3 1063.3"/>
<path d="M2080.3 1063.3L2083.7 1063.3"/>
<path d="M2083.7 1063.3L2087.1 1063.3"/>
<path d="M2087.1 1063.3L2090.5 1063.3"/>
<path d="M2090.5 1063.3L2093.9 1063.3"/>
<path d="M2093.9 1063.3L2097.3 1063.3"/>
<path d="M2097.3 1063.3L2100.7 1063.3"/>
<path d="M2100.7 1063.3L2104.1 1063.4"/>
<path d="M2104.1 1063.4L2107.5 1063.4"/>
<path d="M2107.5 1063.4L2110.9 1063.4"/>
<path d="M2110.9 1063.4L2114.3 1063.5"/>
<path d="M2114.3 1063.5L2117.7 1063.6"/>
<path d="M2117.7 1063.6L2121.1 1063.7"/>
<path d="M2121.1 1063.7L2124.5 1063.8"/>
<path d="M2124.5 1063.8L2127.9 1063.9"/>
<path d="M2127.9 1063.9L2131.3 1064.0"/>
<path d="M2131.3 1064.0L2134.7 1064.1"/>
<path d="M2134.7 1064.1L2138.1 1064.2"/>
<path d="M2138.1 1064.2L2141.5 1064.3"/>
<path d="M2141.5 1064.3L2144.8 1064.5"/>
<path d="M2144.8 1064.5L2148.2 1064.6"/>
<path d="M2148.2 1064.6L2151.6 1064.8"/>
<path d="M2151.6 1064.8L2155.0 1064.9"/>
<path d="M2155.0 1064.9L2158.4 1065.1"/>
<path d="M2158.4 1065.1L2161.8 1065.3"/>
<path d="M2161.8 1065.3L2165.2 1065.4"/>
<path d="M2165.2 1065.4L2168.6 1065.6"/>
<path d="M2168.6 1065.6L2172.0 1065.8"/>
<path d="M2172.0 1065.8L2175.4 1066.0"/>
<path d="M2175.4 1066.0L2178.8 1066.1"/>
<path d="M2178.8 1066.1L2182.2 1066.3"/>
<path d="M2182.2 1066.3L2185.6 1066.5"/>
<path d="M2185.6 1066.5L2189.0 1066.7"/>
<path d="M2189.0 1066.7L2192.4 1066.9"/>
<path d="M2192.4 1066.9L2195.8 1067.1"/>
<path d="M2195.8 1067.1L2199.2 1067.2"/>
<path d="M2199.2 1067.2L2202.6 1067.4"/>
<path d="M2202.6 1067.4L2206.0 1067.6"/>
<path d="M2206.0 1067.6L2209.3 1067.8"/>
<path d="M2209.3 1067.8L2212.7 1068.0"/>
<path d="M2212.7 1068.0L2216.1 1068.3"/>
<path d="M2216.1 1068.3L2219.5 1068.5"/>
<path d="M2219.5 1068.5L2222.9 1068.7"/>
<path d="M2222.9 1068.7L2226.3 1069.0"/>
<path d="M2226.3 1069.0L2229.7 1069.2"/>
<path d="M2229.7 1069.2L2233.1 1069.5"/>
<path d="M2233.1 1069.5L2236.5 1069.7"/>
<path d="M2236.5 1069.7L2239.9 1070.0"/>
<path d="M2239.9 1070.0L2243.3 1070.3"/>
<path d="M2243.3 1070.3L2246.7 1070.6"/>
<path d="M2246.7 1070.6L2250.1 1070.9"/>
<path d="M2250.1 1070.9L2253.5 1071.3"/>
<path d="M2253.5 1071.3L2256.9 1071.6"/>
<path d="M2256.9 1071.6L2260.3 1072.0"/>
<path d="M2260.3 1072.0L2263.7 1072.3"/>
<path d="M2263.7 1072.3L2267.1 1072.7"/>
<path d="M2267.1 1072.7L2270.5 1073.1"/>
<path d="M2270.5 1073.1L2273.9 1073.5"/>
<path d="M2273.9 1073.5L2277.2 1073.9"/>
<path d="M2277.2 1073.9L2280.6 1074.4"/>
<path d="M2280.6 1074.4L2284.0 1074.8"/>
<path d="M2284.0 1074.8L2287.4 1075.3"/>
<path d="M2287.4 1075.3L2290.8 1075.8"/>
<path d="M2290.8 1075.8L2294.2 1076.3"/>
<path d="M2294.2 1076.3L2297.6 1076.8"/>
<path d="M2297.6 1076.8L2301.0 1077.3"/>
<path d="M2301.0 1077.3L2304.4 1078.0"/>
<path d="M2304.4 1078.0L2307.8 1078.9"/>
</g>
<path d="M1514.4 1422.0L1520.6 1426.4" stroke="#ff0000" stroke-width="3.6" fill="none"/>
<path d="M329.5 958.8L346.0 987.5L313.0 987.5Z" fill="#fff" stroke="#ff0000" stroke-width="2.6" stroke-linejoin="miter"/>
<path d="M433.4 958.3L449.9 987.0L416.9 987.0Z" fill="#fff" stroke="#ff0000" stroke-width="2.6" stroke-linejoin="miter"/>
<path d="M537.2 957.4L553.7 986.1L520.7 986.1Z" fill="#fff" stroke="#ff0000" stroke-width="2.6" stroke-linejoin="miter"/>
<path d="M641.1 956.5L657.6 985.2L624.6 985.2Z" fill="#fff" stroke="#ff0000" stroke-width="2.6" stroke-linejoin="miter"/>
<path d="M744.9 955.0L761.4 983.7L728.4 983.7Z" fill="#fff" stroke="#ff0000" stroke-width="2.6" stroke-linejoin="miter"/>
<path d="M848.8 952.2L865.3 980.9L832.3 980.9Z" fill="#fff" stroke="#ff0000" stroke-width="2.6" stroke-linejoin="miter"/>
<path d="M952.6 948.3L969.1 977.0L936.1 977.0Z" fill="#fff" stroke="#ff0000" stroke-width="2.6" stroke-linejoin="miter"/>
<path d="M1056.5 942.8L1073.0 971.5L1040.0 971.5Z" fill="#fff" stroke="#ff0000" stroke-width="2.6" stroke-linejoin="miter"/>
<path d="M1160.3 937.4L1176.8 966.1L1143.8 966.1Z" fill="#fff" stroke="#ff0000" stroke-width="2.6" stroke-linejoin="miter"/>
<path d="M1264.1 939.6L1280.6 968.3L1247.6 968.3Z" fill="#fff" stroke="#ff0000" stroke-width="2.6" stroke-linejoin="miter"/>
<path d="M1368.0 994.0L1384.5 1022.7L1351.5 1022.7Z" fill="#fff" stroke="#ff0000" stroke-width="2.6" stroke-linejoin="miter"/>
<path d="M1471.8 1184.8L1488.3 1213.5L1455.3 1213.5Z" fill="#fff" stroke="#ff0000" stroke-width="2.6" stroke-linejoin="miter"/>
<path d="M1575.7 1182.4L1592.2 1211.1L1559.2 1211.1Z" fill="#fff" stroke="#ff0000" stroke-width="2.6" stroke-linejoin="miter"/>
<path d="M1679.5 1097.8L1696.0 1126.5L1663.0 1126.5Z" fill="#fff" stroke="#ff0000" stroke-width="2.6" stroke-linejoin="miter"/>
<path d="M1783.4 1065.3L1799.9 1094.0L1766.9 1094.0Z" fill="#fff" stroke="#ff0000" stroke-width="2.6" stroke-linejoin="miter"/>
<path d="M1887.2 1050.8L1903.7 1079.5L1870.7 1079.5Z" fill="#fff" stroke="#ff0000" stroke-width="2.6" stroke-linejoin="miter"/>
<path d="M1991.1 1044.8L2007.6 1073.5L1974.6 1073.5Z" fill="#fff" stroke="#ff0000" stroke-width="2.6" stroke-linejoin="miter"/>
<path d="M2094.9 1044.3L2111.4 1073.0L2078.4 1073.0Z" fill="#fff" stroke="#ff0000" stroke-width="2.6" stroke-linejoin="miter"/>
<path d="M2198.8 1048.2L2215.3 1076.9L2182.3 1076.9Z" fill="#fff" stroke="#ff0000" stroke-width="2.6" stroke-linejoin="miter"/>
<path d="M2302.6 1058.6L2319.1 1087.3L2286.1 1087.3Z" fill="#fff" stroke="#ff0000" stroke-width="2.6" stroke-linejoin="miter"/>
</g>
<g stroke="#000" fill="none" stroke-width="1.6">
<path d="M279.1 878.5V1570.5" stroke-width="1.8"/>
<path d="M251.4 1543.0H2308.1" stroke-width="1.8"/>
<path d="M251.4 953.0H279.0"/>
<path d="M251.4 1100.5H279.0"/>
<path d="M251.4 1248.0H279.0"/>
<path d="M251.4 1395.5H279.0"/>
<path d="M265.2 879.2H279.0"/>
<path d="M265.2 1026.8H279.0"/>
<path d="M265.2 1174.2H279.0"/>
<path d="M265.2 1321.8H279.0"/>
<path d="M265.2 1469.2H279.0"/>
<path d="M481.9 1543.0V1570.5"/>
<path d="M684.8 1543.0V1570.5"/>
<path d="M887.6 1543.0V1570.5"/>
<path d="M1090.4 1543.0V1570.5"/>
<path d="M1293.2 1543.0V1570.5"/>
<path d="M1496.0 1543.0V1570.5"/>
<path d="M1698.9 1543.0V1570.5"/>
<path d="M1901.7 1543.0V1570.5"/>
<path d="M2104.5 1543.0V1570.5"/>
<path d="M2307.3 1543.0V1570.5"/>
<path d="M380.5 1543.0V1556.8"/>
<path d="M583.3 1543.0V1556.8"/>
<path d="M786.2 1543.0V1556.8"/>
<path d="M989.0 1543.0V1556.8"/>
<path d="M1191.8 1543.0V1556.8"/>
<path d="M1394.6 1543.0V1556.8"/>
<path d="M1597.5 1543.0V1556.8"/>
<path d="M1800.3 1543.0V1556.8"/>
<path d="M2003.1 1543.0V1556.8"/>
<path d="M2205.9 1543.0V1556.8"/>
</g>
<text transform="translate(232.0 116.2) scale(1 1.042)" class="t" text-anchor="end">0</text>
<text transform="translate(232.0 263.7) scale(1 1.042)" class="t" text-anchor="end">-10</text>
<text transform="translate(232.0 411.2) scale(1 1.042)" class="t" text-anchor="end">-20</text>
<text transform="translate(232.0 558.7) scale(1 1.042)" class="t" text-anchor="end">-30</text>
<text transform="translate(232.0 706.2) scale(1 1.042)" class="t" text-anchor="end">-40</text>
<text transform="translate(279.1 771.5) scale(1 1.042)" class="t" text-anchor="middle">75</text>
<text transform="translate(481.9 771.5) scale(1 1.042)" class="t" text-anchor="middle">80</text>
<text transform="translate(684.8 771.5) scale(1 1.042)" class="t" text-anchor="middle">85</text>
<text transform="translate(887.6 771.5) scale(1 1.042)" class="t" text-anchor="middle">90</text>
<text transform="translate(1090.4 771.5) scale(1 1.042)" class="t" text-anchor="middle">95</text>
<text transform="translate(1293.2 771.5) scale(1 1.042)" class="t" text-anchor="middle">100</text>
<text transform="translate(1496.0 771.5) scale(1 1.042)" class="t" text-anchor="middle">105</text>
<text transform="translate(1698.9 771.5) scale(1 1.042)" class="t" text-anchor="middle">110</text>
<text transform="translate(1901.7 771.5) scale(1 1.042)" class="t" text-anchor="middle">115</text>
<text transform="translate(2104.5 771.5) scale(1 1.042)" class="t" text-anchor="middle">120</text>
<text transform="translate(2307.3 771.5) scale(1 1.042)" class="t" text-anchor="middle">125</text>
<text transform="translate(232.0 971.7) scale(1 1.042)" class="t" text-anchor="end">0</text>
<text transform="translate(232.0 1119.2) scale(1 1.042)" class="t" text-anchor="end">-10</text>
<text transform="translate(232.0 1266.7) scale(1 1.042)" class="t" text-anchor="end">-20</text>
<text transform="translate(232.0 1414.2) scale(1 1.042)" class="t" text-anchor="end">-30</text>
<text transform="translate(232.0 1561.7) scale(1 1.042)" class="t" text-anchor="end">-40</text>
<text transform="translate(279.1 1640.3) scale(1 1.042)" class="t" text-anchor="middle">75</text>
<text transform="translate(481.9 1640.3) scale(1 1.042)" class="t" text-anchor="middle">80</text>
<text transform="translate(684.8 1640.3) scale(1 1.042)" class="t" text-anchor="middle">85</text>
<text transform="translate(887.6 1640.3) scale(1 1.042)" class="t" text-anchor="middle">90</text>
<text transform="translate(1090.4 1640.3) scale(1 1.042)" class="t" text-anchor="middle">95</text>
<text transform="translate(1293.2 1640.3) scale(1 1.042)" class="t" text-anchor="middle">100</text>
<text transform="translate(1496.0 1640.3) scale(1 1.042)" class="t" text-anchor="middle">105</text>
<text transform="translate(1698.9 1640.3) scale(1 1.042)" class="t" text-anchor="middle">110</text>
<text transform="translate(1901.7 1640.3) scale(1 1.042)" class="t" text-anchor="middle">115</text>
<text transform="translate(2104.5 1640.3) scale(1 1.042)" class="t" text-anchor="middle">120</text>
<text transform="translate(2307.3 1640.3) scale(1 1.042)" class="t" text-anchor="middle">125</text>
<text x="1295.6" y="1767.2" class="a" text-anchor="middle">Frequency (GHz)</text>
<text class="a" text-anchor="middle" transform="translate(82.1 407.9) rotate(-90) scale(1 1)">S21 (dB)</text>
<text class="a" text-anchor="middle" transform="translate(82.1 1263.2) rotate(-90) scale(1 1)">S21 (dB)</text>
<path d="M387.4 352.8H538.5" stroke="#0000ff" stroke-width="14.3"/>
<circle cx="462.2" cy="352.9" r="14.3" fill="#fff" stroke="#0000ff" stroke-width="2.2"/>
<path d="M387.4 435.6H538.5" stroke="#ff0000" stroke-width="14.3"/>
<path d="M462.6 416.5L478.9 445.4L446.3 445.4Z" fill="#fff" stroke="#000" stroke-width="2.4" stroke-linejoin="miter"/>
<text x="557.5" y="375.0" class="l">W/O Fab. tolerance</text>
<text x="557.5" y="458.2" class="l">W/ Fab. tolerance</text>
<path d="M385.2 1220.8H536.0" stroke="#0000ff" stroke-width="14.3"/>
<circle cx="459.9" cy="1220.9" r="14.3" fill="#fff" stroke="#0000ff" stroke-width="2.2"/>
<path d="M385.2 1303.6H536.0" stroke="#ff0000" stroke-width="14.3"/>
<path d="M460.3 1284.5L476.6 1313.4L444.0 1313.4Z" fill="#fff" stroke="#ff0000" stroke-width="2.4" stroke-linejoin="miter"/>
<text x="555.5" y="1243.9" class="l">W/O Fab. tolerance</text>
<text x="555.5" y="1326.4" class="l">W/ Fab. tolerance</text>
<text transform="translate(1354.5 655.9) scale(1 1.015)" style="font-size:68.2px">2.16<tspan class="g" dx="1.5">GHz</tspan></text>
<text transform="translate(1348.0 1493.2) scale(1 1.03)" style="font-size:67.3px">0.48<tspan class="g" dx="0.8">GHz</tspan></text>
<path d="M1493.1 592.6L1512.6 574.0V588.1H1575.6V574.0L1595.1 592.6L1575.6 611.2V597.1H1512.6V611.2Z" fill="#000"/>
<path d="M1494.2 1438.6H1518.1" stroke="#000" stroke-width="1.6"/>
<path d="M1490.2 1438.6L1496.8 1426.2V1451.0ZM1522.1 1438.6L1515.5 1426.2V1451.0Z" fill="#000"/>
<rect x="1705.1" y="357.1" width="603.5" height="302.4" fill="#f2f2f2" stroke="#000" stroke-width="1.3"/>
<path d="M2006.9 357.1V659.5" stroke="#000" stroke-width="1.5"/>
<rect x="1771.5" y="424.0" width="168.5" height="168.5" fill="#808080" stroke="#000" stroke-width="1.3"/>
<rect x="1792.8" y="445.4" width="125.8" height="125.8" fill="#f2f2f2" stroke="#000" stroke-width="1.3"/>
<rect x="2073.6" y="424.0" width="168.5" height="168.5" fill="#808080" stroke="#000" stroke-width="1.3"/>
<rect x="2094.9" y="445.4" width="125.8" height="125.8" fill="#f2f2f2" stroke="#000" stroke-width="1.3"/>
<path d="M1771.5 336.6V416.4" stroke="#000" stroke-width="2.5" stroke-linecap="round" stroke-dasharray="12.3 9.7" fill="none"/>
<path d="M1940.0 336.6V416.4" stroke="#000" stroke-width="2.5" stroke-linecap="round" stroke-dasharray="12.3 9.7" fill="none"/>
<path d="M2073.6 336.6V416.4" stroke="#000" stroke-width="2.5" stroke-linecap="round" stroke-dasharray="12.3 9.7" fill="none"/>
<g stroke="#000" stroke-width="1.7" fill="none">
<path d="M1771.5 340.1H1833.0M1880.1 340.1H1977.7M2027.1 340.1H2073.6"/>
<path d="M1683.8 357.1V490.7M1683.8 539.5V659.5"/>
<path d="M1673.5 357.1H1684.6M1690.6 357.1H1705.1" stroke-width="1.6"/>
<path d="M1674.3 659.5H1683.8M1691.8 659.5H1705.1" stroke-width="2.4" stroke-linecap="round"/>
<path d="M1807.3 403.4V419.0M1807.3 451.1V467.3"/>
</g>
<path d="M1838.0 340.1L1828.5 335.1V345.1Z" fill="#000"/>
<path d="M1875.1 340.1L1884.6 335.1V345.1Z" fill="#000"/>
<path d="M1982.7 340.1L1973.2 335.1V345.1Z" fill="#000"/>
<path d="M2022.1 340.1L2031.6 335.1V345.1Z" fill="#000"/>
<path d="M1683.8 495.7L1678.8 486.2H1688.8Z" fill="#000"/>
<path d="M1683.8 534.5L1678.8 544.0H1688.8Z" fill="#000"/>
<path d="M1807.3 424.0L1802.3 414.5H1812.3Z" fill="#000"/>
<path d="M1807.3 446.1L1802.3 455.6H1812.3Z" fill="#000"/>
<text x="1843.0" y="348.3" class="m">d</text><text x="1863.5" y="354.2" class="s">s</text>
<text x="1988.5" y="344.3" class="m">g</text><text x="2010.0" y="350.0" class="s">s</text>
<text x="1817.0" y="413.9" class="m">w</text><text x="1843.5" y="419.3" class="s">s</text>
<text x="1668.0" y="524.2" class="m">p</text><text x="1689.5" y="529.7" class="s">s</text>
<rect x="1701.5" y="1211.5" width="603.6" height="302.1" fill="#f2f2f2" stroke="#000" stroke-width="1.3"/>
<path d="M2003.1 1211.5V1513.6" stroke="#000" stroke-width="1.5"/>
<circle cx="1851.6" cy="1360.8" r="109.2" fill="#808080" stroke="#000" stroke-width="1.3"/>
<circle cx="1851.6" cy="1362.3" r="83.5" fill="#f2f2f2" stroke="#000" stroke-width="1.3"/>
<circle cx="2153.9" cy="1360.8" r="109.2" fill="#808080" stroke="#000" stroke-width="1.3"/>
<circle cx="2153.9" cy="1362.3" r="83.5" fill="#f2f2f2" stroke="#000" stroke-width="1.3"/>
<path d="M1742.5 1188.5V1357.5" stroke="#000" stroke-width="2.9" stroke-linecap="round" stroke-dasharray="11.9 10.5" fill="none"/>
<path d="M1960.6 1188.5V1357.5" stroke="#000" stroke-width="2.9" stroke-linecap="round" stroke-dasharray="11.9 10.5" fill="none"/>
<path d="M2044.7 1188.5V1357.5" stroke="#000" stroke-width="2.9" stroke-linecap="round" stroke-dasharray="11.9 10.5" fill="none"/>
<g stroke="#000" stroke-width="1.7" fill="none">
<path d="M1742.5 1194.3H1816.4M1876.5 1194.3H1974.1M2028.9 1194.3H2044.7"/>
<path d="M1680.7 1211.5V1345.4M1680.7 1393.4V1513.6"/>
<path d="M1670.4 1211.5H1681.5M1687.5 1211.5H1701.5" stroke-width="2.3"/>
<path d="M1671.2 1513.6H1680.7M1688.7 1513.6H1701.5" stroke-width="2.4" stroke-linecap="round"/>
<path d="M1829.0 1233.5V1248.0M1829.0 1286.5V1303.3"/>
</g>
<path d="M1821.4 1194.3L1811.9 1189.3V1199.3Z" fill="#000"/>
<path d="M1871.5 1194.3L1881.0 1189.3V1199.3Z" fill="#000"/>
<path d="M1979.1 1194.3L1969.6 1189.3V1199.3Z" fill="#000"/>
<path d="M2023.9 1194.3L2033.4 1189.3V1199.3Z" fill="#000"/>
<path d="M1680.7 1350.4L1675.7 1340.9H1685.7Z" fill="#000"/>
<path d="M1680.7 1388.4L1675.7 1397.9H1685.7Z" fill="#000"/>
<path d="M1829.0 1253.0L1824.0 1243.5H1834.0Z" fill="#000"/>
<path d="M1829.0 1281.5L1824.0 1291.0H1834.0Z" fill="#000"/>
<text x="1832.0" y="1202.5" class="m">d</text><text x="1853.5" y="1208.5" class="s">c</text>
<text x="1983.5" y="1198.5" class="m">g</text><text x="2005.0" y="1204.5" class="s">c</text>
<text x="1848.0" y="1310.0" class="m">w</text><text x="1875.0" y="1315.5" class="s">c</text>
<text x="1664.0" y="1378.5" class="m">p</text><text x="1686.0" y="1384.0" class="s">c</text>
</svg>
</body></html>
